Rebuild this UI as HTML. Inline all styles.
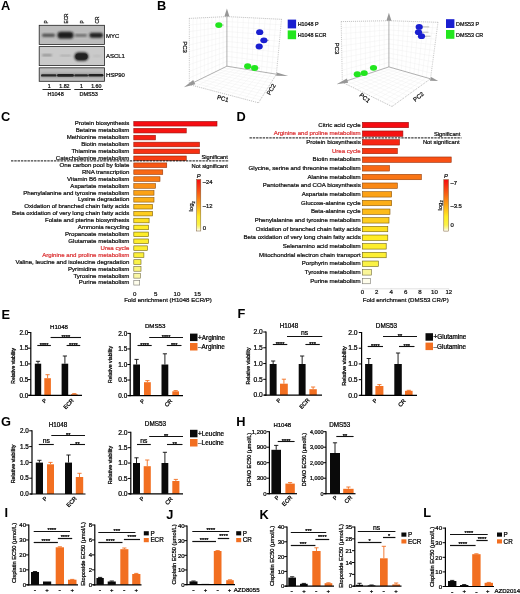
<!DOCTYPE html>
<html lang="en"><head><meta charset="utf-8"><title>Figure</title>
<style>html,body{margin:0;padding:0;background:#fff}svg{display:block}text{font-family:"Liberation Sans",Arial,sans-serif}</style>
</head><body>
<svg width="520" height="594" viewBox="0 0 520 594">
<defs>
<linearGradient id="cb" x1="0" y1="0" x2="0" y2="1">
<stop offset="0.0" stop-color="#f60c12"/><stop offset="0.28" stop-color="#f86214"/><stop offset="0.5" stop-color="#fca816"/><stop offset="0.72" stop-color="#ffec24"/><stop offset="0.88" stop-color="#faf248"/><stop offset="0.95" stop-color="#faf7a5"/><stop offset="1.0" stop-color="#fffffc"/>
</linearGradient>
<filter id="b1" x="-20%" y="-50%" width="140%" height="200%"><feGaussianBlur stdDeviation="0.9"/></filter>
<filter id="b2" x="-20%" y="-50%" width="140%" height="200%"><feGaussianBlur stdDeviation="0.5"/></filter>
</defs>
<rect x="0" y="0" width="520" height="594" fill="#fff"/>
<text x="1" y="10.3" font-size="12.8" font-weight="bold" fill="#000">A</text>
<text x="156.9" y="10.3" font-size="12.8" font-weight="bold" fill="#000">B</text>
<text x="1" y="120.7" font-size="12.8" font-weight="bold" fill="#000">C</text>
<text x="236.4" y="120.7" font-size="12.8" font-weight="bold" fill="#000">D</text>
<text x="1.6" y="318.6" font-size="12.8" font-weight="bold" fill="#000">E</text>
<text x="237.5" y="317.8" font-size="12.8" font-weight="bold" fill="#000">F</text>
<text x="1" y="426.4" font-size="12.8" font-weight="bold" fill="#000">G</text>
<text x="236.2" y="426.2" font-size="12.8" font-weight="bold" fill="#000">H</text>
<text x="4.5" y="517" font-size="12.8" font-weight="bold" fill="#000">I</text>
<text x="166.2" y="518.6" font-size="12.8" font-weight="bold" fill="#000">J</text>
<text x="259.5" y="518.6" font-size="12.8" font-weight="bold" fill="#000">K</text>
<text x="423.3" y="517.4" font-size="12.8" font-weight="bold" fill="#000">L</text>
<rect x="39.20" y="25.30" width="65.20" height="19.20" fill="#bcbcbc" stroke="#222" stroke-width="0.8"/>
<rect x="39.20" y="46.60" width="65.20" height="19.00" fill="#cacaca" stroke="#222" stroke-width="0.8"/>
<rect x="39.20" y="67.80" width="65.20" height="13.50" fill="#bdbdbd" stroke="#222" stroke-width="0.8"/>
<rect x="42" y="33.70" width="13.00" height="3.0" rx="1.50" fill="#3a3a3a" opacity="0.9" filter="url(#b1)"/>
<rect x="57.5" y="31.80" width="16.00" height="6.8" rx="3.40" fill="#1c1c1c" opacity="1" filter="url(#b1)"/>
<rect x="74.8" y="34.30" width="12.20" height="2.2" rx="1.10" fill="#4a4a4a" opacity="0.85" filter="url(#b1)"/>
<rect x="89.4" y="32.70" width="13.60" height="5.0" rx="2.50" fill="#222" opacity="1" filter="url(#b1)"/>
<rect x="42" y="54.40" width="10.00" height="1.6" rx="0.80" fill="#555" opacity="0.7" filter="url(#b1)"/>
<rect x="60" y="54.90" width="11.00" height="1.4" rx="0.70" fill="#777" opacity="0.5" filter="url(#b1)"/>
<rect x="74.3" y="52.20" width="14.20" height="8.8" rx="4.40" fill="#2a2a2a" opacity="1" filter="url(#b1)"/>
<rect x="75.5" y="53.60" width="12.00" height="6" rx="3.00" fill="#222" opacity="1" filter="url(#b2)"/>
<rect x="93" y="55.40" width="8.00" height="1.2" rx="0.60" fill="#888" opacity="0.4" filter="url(#b1)"/>
<rect x="41" y="74.20" width="15.50" height="2.4" rx="1.20" fill="#151515" opacity="1" filter="url(#b2)"/>
<rect x="57" y="74.10" width="17.00" height="2.6" rx="1.30" fill="#111" opacity="1" filter="url(#b2)"/>
<rect x="74.3" y="74.20" width="13.70" height="2.4" rx="1.20" fill="#151515" opacity="1" filter="url(#b2)"/>
<rect x="88.3" y="73.90" width="15.10" height="2.6" rx="1.30" fill="#111" opacity="1" filter="url(#b2)"/>
<rect x="40.5" y="73.20" width="63.10" height="4.4" rx="2.20" fill="#555" opacity="0.35" filter="url(#b1)"/>
<text x="106" y="37.6" font-size="5.95" fill="#111" stroke="#111" stroke-width="0.24">MYC</text>
<text x="106" y="57.6" font-size="5.95" fill="#111" stroke="#111" stroke-width="0.24">ASCL1</text>
<text x="106" y="76.6" font-size="5.95" fill="#111" stroke="#111" stroke-width="0.24">HSP90</text>
<text x="48.4" y="23.4" font-size="4.7" fill="#111" stroke="#111" stroke-width="0.24" transform="rotate(-90 48.4 23.4)">P</text>
<text x="67.8" y="23.4" font-size="4.7" fill="#111" stroke="#111" stroke-width="0.24" transform="rotate(-90 67.8 23.4)">ECR</text>
<text x="83.6" y="23.4" font-size="4.7" fill="#111" stroke="#111" stroke-width="0.24" transform="rotate(-90 83.6 23.4)">P</text>
<text x="98.6" y="23.4" font-size="4.7" fill="#111" stroke="#111" stroke-width="0.24" transform="rotate(-90 98.6 23.4)">CR</text>
<text x="49.2" y="87.5" font-size="5.3" text-anchor="middle" fill="#111" stroke="#111" stroke-width="0.24">1</text>
<text x="64.4" y="87.5" font-size="5.3" text-anchor="middle" fill="#111" stroke="#111" stroke-width="0.24">1.82</text>
<text x="81.5" y="87.5" font-size="5.3" text-anchor="middle" fill="#111" stroke="#111" stroke-width="0.24">1</text>
<text x="96.3" y="87.5" font-size="5.3" text-anchor="middle" fill="#111" stroke="#111" stroke-width="0.24">1.60</text>
<line x1="42.5" y1="89.5" x2="70.8" y2="89.5" stroke="#111" stroke-width="0.9"/>
<line x1="74.3" y1="89.5" x2="103" y2="89.5" stroke="#111" stroke-width="0.9"/>
<text x="55.6" y="96.2" font-size="5.5" text-anchor="middle" fill="#111" stroke="#111" stroke-width="0.24">H1048</text>
<text x="88.6" y="96.2" font-size="5.5" text-anchor="middle" fill="#111" stroke="#111" stroke-width="0.24">DMS53</text>
<line x1="223.1" y1="68.0" x2="223.1" y2="16.8" stroke="#ececec" stroke-width="0.35"/>
<line x1="226.9" y1="61.2" x2="189.3" y2="78.0" stroke="#ececec" stroke-width="0.35"/>
<line x1="231.8" y1="67.0" x2="232.4" y2="16.9" stroke="#ececec" stroke-width="0.35"/>
<line x1="226.9" y1="61.2" x2="276.9" y2="68.7" stroke="#ececec" stroke-width="0.35"/>
<line x1="223.1" y1="68.0" x2="274.6" y2="77.1" stroke="#ececec" stroke-width="0.35"/>
<line x1="231.8" y1="67.0" x2="196.2" y2="86.4" stroke="#ececec" stroke-width="0.35"/>
<line x1="219.4" y1="69.9" x2="219.4" y2="17.0" stroke="#ececec" stroke-width="0.35"/>
<line x1="226.9" y1="56.3" x2="189.3" y2="71.4" stroke="#ececec" stroke-width="0.35"/>
<line x1="236.8" y1="67.8" x2="237.8" y2="17.1" stroke="#ececec" stroke-width="0.35"/>
<line x1="226.9" y1="56.3" x2="277.4" y2="63.2" stroke="#ececec" stroke-width="0.35"/>
<line x1="219.4" y1="69.9" x2="272.8" y2="79.9" stroke="#ececec" stroke-width="0.35"/>
<line x1="236.8" y1="67.8" x2="203.1" y2="88.2" stroke="#ececec" stroke-width="0.35"/>
<line x1="215.6" y1="71.7" x2="215.6" y2="17.1" stroke="#ececec" stroke-width="0.35"/>
<line x1="226.9" y1="51.3" x2="189.3" y2="64.7" stroke="#ececec" stroke-width="0.35"/>
<line x1="241.8" y1="68.6" x2="243.3" y2="17.4" stroke="#ececec" stroke-width="0.35"/>
<line x1="226.9" y1="51.3" x2="277.9" y2="57.7" stroke="#ececec" stroke-width="0.35"/>
<line x1="215.6" y1="71.7" x2="271.0" y2="82.8" stroke="#ececec" stroke-width="0.35"/>
<line x1="241.8" y1="68.6" x2="210.1" y2="90.1" stroke="#ececec" stroke-width="0.35"/>
<line x1="211.9" y1="73.6" x2="211.9" y2="17.3" stroke="#ececec" stroke-width="0.35"/>
<line x1="226.9" y1="46.4" x2="189.3" y2="58.1" stroke="#ececec" stroke-width="0.35"/>
<line x1="246.7" y1="69.4" x2="248.7" y2="17.7" stroke="#ececec" stroke-width="0.35"/>
<line x1="226.9" y1="46.4" x2="278.4" y2="52.2" stroke="#ececec" stroke-width="0.35"/>
<line x1="211.9" y1="73.6" x2="269.2" y2="85.6" stroke="#ececec" stroke-width="0.35"/>
<line x1="246.7" y1="69.4" x2="217.0" y2="91.9" stroke="#ececec" stroke-width="0.35"/>
<line x1="208.1" y1="75.4" x2="208.1" y2="17.5" stroke="#ececec" stroke-width="0.35"/>
<line x1="226.9" y1="41.4" x2="189.3" y2="51.5" stroke="#ececec" stroke-width="0.35"/>
<line x1="251.6" y1="70.2" x2="254.2" y2="18.0" stroke="#ececec" stroke-width="0.35"/>
<line x1="226.9" y1="41.4" x2="278.9" y2="46.8" stroke="#ececec" stroke-width="0.35"/>
<line x1="208.1" y1="75.4" x2="267.4" y2="88.5" stroke="#ececec" stroke-width="0.35"/>
<line x1="251.6" y1="70.2" x2="223.9" y2="93.7" stroke="#ececec" stroke-width="0.35"/>
<line x1="204.3" y1="77.2" x2="204.3" y2="17.7" stroke="#ececec" stroke-width="0.35"/>
<line x1="226.9" y1="36.4" x2="189.3" y2="44.9" stroke="#ececec" stroke-width="0.35"/>
<line x1="256.6" y1="71.0" x2="259.7" y2="18.2" stroke="#ececec" stroke-width="0.35"/>
<line x1="226.9" y1="36.4" x2="279.5" y2="41.3" stroke="#ececec" stroke-width="0.35"/>
<line x1="204.3" y1="77.2" x2="265.7" y2="91.4" stroke="#ececec" stroke-width="0.35"/>
<line x1="256.6" y1="71.0" x2="230.8" y2="95.5" stroke="#ececec" stroke-width="0.35"/>
<line x1="200.6" y1="79.1" x2="200.6" y2="17.9" stroke="#ececec" stroke-width="0.35"/>
<line x1="226.9" y1="31.5" x2="189.3" y2="38.3" stroke="#ececec" stroke-width="0.35"/>
<line x1="261.5" y1="71.8" x2="265.1" y2="18.5" stroke="#ececec" stroke-width="0.35"/>
<line x1="226.9" y1="31.5" x2="280.0" y2="35.8" stroke="#ececec" stroke-width="0.35"/>
<line x1="200.6" y1="79.1" x2="263.9" y2="94.2" stroke="#ececec" stroke-width="0.35"/>
<line x1="261.5" y1="71.8" x2="237.7" y2="97.3" stroke="#ececec" stroke-width="0.35"/>
<line x1="196.8" y1="80.9" x2="196.8" y2="18.0" stroke="#ececec" stroke-width="0.35"/>
<line x1="226.9" y1="26.5" x2="189.3" y2="31.6" stroke="#ececec" stroke-width="0.35"/>
<line x1="266.5" y1="72.6" x2="270.6" y2="18.8" stroke="#ececec" stroke-width="0.35"/>
<line x1="226.9" y1="26.5" x2="280.5" y2="30.3" stroke="#ececec" stroke-width="0.35"/>
<line x1="196.8" y1="80.9" x2="262.1" y2="97.1" stroke="#ececec" stroke-width="0.35"/>
<line x1="266.5" y1="72.6" x2="244.7" y2="99.2" stroke="#ececec" stroke-width="0.35"/>
<line x1="193.1" y1="82.8" x2="193.1" y2="18.2" stroke="#ececec" stroke-width="0.35"/>
<line x1="226.9" y1="21.6" x2="189.3" y2="25.0" stroke="#ececec" stroke-width="0.35"/>
<line x1="271.4" y1="73.4" x2="276.0" y2="19.0" stroke="#ececec" stroke-width="0.35"/>
<line x1="226.9" y1="21.6" x2="281.0" y2="24.8" stroke="#ececec" stroke-width="0.35"/>
<line x1="193.1" y1="82.8" x2="260.3" y2="99.9" stroke="#ececec" stroke-width="0.35"/>
<line x1="271.4" y1="73.4" x2="251.6" y2="101.0" stroke="#ececec" stroke-width="0.35"/>
<line x1="189.3" y1="84.6" x2="189.3" y2="18.4" stroke="#ececec" stroke-width="0.35"/>
<line x1="226.9" y1="16.6" x2="189.3" y2="18.4" stroke="#ececec" stroke-width="0.35"/>
<line x1="276.4" y1="74.2" x2="281.5" y2="19.3" stroke="#ececec" stroke-width="0.35"/>
<line x1="226.9" y1="16.6" x2="281.5" y2="19.3" stroke="#ececec" stroke-width="0.35"/>
<line x1="189.3" y1="84.6" x2="258.5" y2="102.8" stroke="#ececec" stroke-width="0.35"/>
<line x1="276.4" y1="74.2" x2="258.5" y2="102.8" stroke="#ececec" stroke-width="0.35"/>
<line x1="189.3" y1="18.4" x2="226.9" y2="16.6" stroke="#8a8a8a" stroke-width="0.6" stroke-dasharray="0.8 1.2"/>
<line x1="226.9" y1="16.6" x2="281.5" y2="19.3" stroke="#8a8a8a" stroke-width="0.6" stroke-dasharray="0.8 1.2"/>
<line x1="189.3" y1="84.6" x2="258.5" y2="102.8" stroke="#8a8a8a" stroke-width="0.6" stroke-dasharray="0.8 1.2"/>
<line x1="258.5" y1="102.8" x2="276.4" y2="74.2" stroke="#8a8a8a" stroke-width="0.6" stroke-dasharray="0.8 1.2"/>
<line x1="189.3" y1="18.4" x2="189.3" y2="84.6" stroke="#9a9a9a" stroke-width="0.6" stroke-dasharray="0.8 1.4"/>
<line x1="281.5" y1="19.3" x2="276.4" y2="74.2" stroke="#9a9a9a" stroke-width="0.6" stroke-dasharray="0.8 1.4"/>
<line x1="226.9" y1="66.2" x2="226.9" y2="16.6" stroke="#858585" stroke-width="0.65"/>
<line x1="226.9" y1="66.2" x2="189.3" y2="84.6" stroke="#858585" stroke-width="0.65"/>
<line x1="226.9" y1="66.2" x2="276.4" y2="74.2" stroke="#858585" stroke-width="0.65"/>
<polygon points="226.9,8.6 229.4,16.6 224.4,16.6" fill="#979797"/>
<polygon points="183.9,87.2 193.2,80.1 195.3,84.2" fill="#979797"/>
<polygon points="288.2,76.1 276.1,75.8 276.7,72.6" fill="#979797"/>
<ellipse cx="259.7" cy="32.2" rx="3.6" ry="2.9" fill="#1a1fd0"/>
<line x1="263.9" y1="40.3" x2="268.9" y2="40.3" stroke="#777" stroke-width="0.5"/>
<ellipse cx="263.9" cy="40.3" rx="3.6" ry="2.9" fill="#1a1fd0"/>
<ellipse cx="259.2" cy="46.5" rx="3.6" ry="2.9" fill="#1a1fd0"/>
<line x1="218.8" y1="25.1" x2="223.8" y2="25.1" stroke="#777" stroke-width="0.5"/>
<ellipse cx="218.8" cy="25.1" rx="3.6" ry="2.9" fill="#22e61e"/>
<ellipse cx="247.7" cy="66.2" rx="3.6" ry="2.9" fill="#22e61e"/>
<line x1="254.6" y1="68.0" x2="259.6" y2="68.0" stroke="#777" stroke-width="0.5"/>
<ellipse cx="254.6" cy="68" rx="3.6" ry="2.9" fill="#22e61e"/>
<text x="183.2" y="47" font-size="6.0" text-anchor="middle" fill="#111" stroke="#111" stroke-width="0.24" transform="rotate(90 183.2 47)">PC3</text>
<text x="222.3" y="100.6" font-size="6.0" text-anchor="middle" fill="#111" stroke="#111" stroke-width="0.24" transform="rotate(15 222.3 100.6)">PC1</text>
<text x="273" y="90.5" font-size="6.0" text-anchor="middle" fill="#111" stroke="#111" stroke-width="0.24" transform="rotate(-60 273 90.5)">PC2</text>
<rect x="287.70" y="19.60" width="8.40" height="8.80" fill="#1a1fd0"/>
<rect x="287.70" y="30.40" width="8.40" height="8.80" fill="#22e61e"/>
<text x="297.7" y="26.200000000000003" font-size="5.4" fill="#111" stroke="#111" stroke-width="0.24">H1048 P</text>
<text x="297.7" y="37.0" font-size="5.4" fill="#111" stroke="#111" stroke-width="0.24">H1048 ECR</text>
<line x1="384.2" y1="68.4" x2="384.1" y2="20.8" stroke="#ececec" stroke-width="0.35"/>
<line x1="388.9" y1="62.3" x2="342.2" y2="76.2" stroke="#ececec" stroke-width="0.35"/>
<line x1="393.1" y1="68.1" x2="393.8" y2="20.9" stroke="#ececec" stroke-width="0.35"/>
<line x1="388.9" y1="62.3" x2="431.2" y2="73.1" stroke="#ececec" stroke-width="0.35"/>
<line x1="384.2" y1="68.4" x2="426.6" y2="81.6" stroke="#ececec" stroke-width="0.35"/>
<line x1="393.1" y1="68.1" x2="347.3" y2="84.7" stroke="#ececec" stroke-width="0.35"/>
<line x1="379.6" y1="70.0" x2="379.4" y2="20.9" stroke="#ececec" stroke-width="0.35"/>
<line x1="388.9" y1="57.7" x2="342.1" y2="70.2" stroke="#ececec" stroke-width="0.35"/>
<line x1="397.2" y1="69.3" x2="398.7" y2="21.0" stroke="#ececec" stroke-width="0.35"/>
<line x1="388.9" y1="57.7" x2="432.0" y2="67.5" stroke="#ececec" stroke-width="0.35"/>
<line x1="379.6" y1="70.0" x2="422.8" y2="84.3" stroke="#ececec" stroke-width="0.35"/>
<line x1="397.2" y1="69.3" x2="352.2" y2="87.1" stroke="#ececec" stroke-width="0.35"/>
<line x1="374.9" y1="71.5" x2="374.6" y2="21.0" stroke="#ececec" stroke-width="0.35"/>
<line x1="388.9" y1="53.0" x2="342.0" y2="64.1" stroke="#ececec" stroke-width="0.35"/>
<line x1="401.4" y1="70.5" x2="403.6" y2="21.2" stroke="#ececec" stroke-width="0.35"/>
<line x1="388.9" y1="53.0" x2="432.8" y2="61.8" stroke="#ececec" stroke-width="0.35"/>
<line x1="374.9" y1="71.5" x2="418.9" y2="87.1" stroke="#ececec" stroke-width="0.35"/>
<line x1="401.4" y1="70.5" x2="357.2" y2="89.6" stroke="#ececec" stroke-width="0.35"/>
<line x1="370.3" y1="73.1" x2="369.8" y2="21.1" stroke="#ececec" stroke-width="0.35"/>
<line x1="388.9" y1="48.4" x2="341.9" y2="58.0" stroke="#ececec" stroke-width="0.35"/>
<line x1="405.5" y1="71.7" x2="408.5" y2="21.3" stroke="#ececec" stroke-width="0.35"/>
<line x1="388.9" y1="48.4" x2="433.5" y2="56.2" stroke="#ececec" stroke-width="0.35"/>
<line x1="370.3" y1="73.1" x2="415.1" y2="89.9" stroke="#ececec" stroke-width="0.35"/>
<line x1="405.5" y1="71.7" x2="362.2" y2="92.0" stroke="#ececec" stroke-width="0.35"/>
<line x1="365.6" y1="74.6" x2="365.0" y2="21.1" stroke="#ececec" stroke-width="0.35"/>
<line x1="388.9" y1="43.8" x2="341.8" y2="52.0" stroke="#ececec" stroke-width="0.35"/>
<line x1="409.7" y1="72.8" x2="413.4" y2="21.5" stroke="#ececec" stroke-width="0.35"/>
<line x1="388.9" y1="43.8" x2="434.2" y2="50.5" stroke="#ececec" stroke-width="0.35"/>
<line x1="365.6" y1="74.6" x2="411.2" y2="92.7" stroke="#ececec" stroke-width="0.35"/>
<line x1="409.7" y1="72.8" x2="367.1" y2="94.4" stroke="#ececec" stroke-width="0.35"/>
<line x1="360.9" y1="76.1" x2="360.3" y2="21.2" stroke="#ececec" stroke-width="0.35"/>
<line x1="388.9" y1="39.2" x2="341.6" y2="45.9" stroke="#ececec" stroke-width="0.35"/>
<line x1="413.9" y1="74.0" x2="418.4" y2="21.7" stroke="#ececec" stroke-width="0.35"/>
<line x1="388.9" y1="39.2" x2="435.0" y2="44.9" stroke="#ececec" stroke-width="0.35"/>
<line x1="360.9" y1="76.1" x2="407.4" y2="95.4" stroke="#ececec" stroke-width="0.35"/>
<line x1="413.9" y1="74.0" x2="372.1" y2="96.8" stroke="#ececec" stroke-width="0.35"/>
<line x1="356.3" y1="77.7" x2="355.5" y2="21.3" stroke="#ececec" stroke-width="0.35"/>
<line x1="388.9" y1="34.6" x2="341.5" y2="39.8" stroke="#ececec" stroke-width="0.35"/>
<line x1="418.0" y1="75.2" x2="423.3" y2="21.8" stroke="#ececec" stroke-width="0.35"/>
<line x1="388.9" y1="34.6" x2="435.8" y2="39.2" stroke="#ececec" stroke-width="0.35"/>
<line x1="356.3" y1="77.7" x2="403.6" y2="98.2" stroke="#ececec" stroke-width="0.35"/>
<line x1="418.0" y1="75.2" x2="377.1" y2="99.2" stroke="#ececec" stroke-width="0.35"/>
<line x1="351.6" y1="79.2" x2="350.7" y2="21.4" stroke="#ececec" stroke-width="0.35"/>
<line x1="388.9" y1="29.9" x2="341.4" y2="33.7" stroke="#ececec" stroke-width="0.35"/>
<line x1="422.2" y1="76.4" x2="428.2" y2="22.0" stroke="#ececec" stroke-width="0.35"/>
<line x1="388.9" y1="29.9" x2="436.5" y2="33.6" stroke="#ececec" stroke-width="0.35"/>
<line x1="351.6" y1="79.2" x2="399.7" y2="101.0" stroke="#ececec" stroke-width="0.35"/>
<line x1="422.2" y1="76.4" x2="382.1" y2="101.7" stroke="#ececec" stroke-width="0.35"/>
<line x1="347.0" y1="80.8" x2="346.0" y2="21.5" stroke="#ececec" stroke-width="0.35"/>
<line x1="388.9" y1="25.3" x2="341.3" y2="27.7" stroke="#ececec" stroke-width="0.35"/>
<line x1="426.3" y1="77.6" x2="433.1" y2="22.1" stroke="#ececec" stroke-width="0.35"/>
<line x1="388.9" y1="25.3" x2="437.2" y2="27.9" stroke="#ececec" stroke-width="0.35"/>
<line x1="347.0" y1="80.8" x2="395.9" y2="103.7" stroke="#ececec" stroke-width="0.35"/>
<line x1="426.3" y1="77.6" x2="387.0" y2="104.1" stroke="#ececec" stroke-width="0.35"/>
<line x1="342.3" y1="82.3" x2="341.2" y2="21.6" stroke="#ececec" stroke-width="0.35"/>
<line x1="388.9" y1="20.7" x2="341.2" y2="21.6" stroke="#ececec" stroke-width="0.35"/>
<line x1="430.5" y1="78.8" x2="438.0" y2="22.3" stroke="#ececec" stroke-width="0.35"/>
<line x1="388.9" y1="20.7" x2="438.0" y2="22.3" stroke="#ececec" stroke-width="0.35"/>
<line x1="342.3" y1="82.3" x2="392.0" y2="106.5" stroke="#ececec" stroke-width="0.35"/>
<line x1="430.5" y1="78.8" x2="392.0" y2="106.5" stroke="#ececec" stroke-width="0.35"/>
<line x1="341.2" y1="21.6" x2="388.9" y2="20.7" stroke="#8a8a8a" stroke-width="0.6" stroke-dasharray="0.8 1.2"/>
<line x1="388.9" y1="20.7" x2="438.0" y2="22.3" stroke="#8a8a8a" stroke-width="0.6" stroke-dasharray="0.8 1.2"/>
<line x1="342.3" y1="82.3" x2="392.0" y2="106.5" stroke="#8a8a8a" stroke-width="0.6" stroke-dasharray="0.8 1.2"/>
<line x1="392.0" y1="106.5" x2="430.5" y2="78.8" stroke="#8a8a8a" stroke-width="0.6" stroke-dasharray="0.8 1.2"/>
<line x1="341.2" y1="21.6" x2="342.3" y2="82.3" stroke="#9a9a9a" stroke-width="0.6" stroke-dasharray="0.8 1.4"/>
<line x1="438.0" y1="22.3" x2="430.5" y2="78.8" stroke="#9a9a9a" stroke-width="0.6" stroke-dasharray="0.8 1.4"/>
<line x1="388.9" y1="66.9" x2="388.9" y2="20.7" stroke="#858585" stroke-width="0.65"/>
<line x1="388.9" y1="66.9" x2="342.3" y2="82.3" stroke="#858585" stroke-width="0.65"/>
<line x1="388.9" y1="66.9" x2="430.5" y2="78.8" stroke="#858585" stroke-width="0.65"/>
<polygon points="388.9,12.7 391.4,20.7 386.4,20.7" fill="#979797"/>
<polygon points="336.6,84.2 346.8,78.4 348.2,82.8" fill="#979797"/>
<polygon points="438.2,81.0 429.9,80.7 431.1,76.9" fill="#979797"/>
<line x1="419.2" y1="26.9" x2="429.2" y2="26.9" stroke="#777" stroke-width="0.5"/>
<ellipse cx="419.2" cy="26.9" rx="3.6" ry="2.9" fill="#1a1fd0"/>
<line x1="418.5" y1="32.2" x2="428.5" y2="32.2" stroke="#777" stroke-width="0.5"/>
<ellipse cx="418.5" cy="32.2" rx="3.6" ry="2.9" fill="#1a1fd0"/>
<line x1="421.5" y1="36.2" x2="430.5" y2="36.2" stroke="#777" stroke-width="0.5"/>
<ellipse cx="421.5" cy="36.2" rx="3.6" ry="2.9" fill="#1a1fd0"/>
<ellipse cx="373.5" cy="67.8" rx="3.6" ry="2.9" fill="#22e61e"/>
<ellipse cx="364.2" cy="73.1" rx="3.6" ry="2.9" fill="#22e61e"/>
<ellipse cx="357.3" cy="74.2" rx="3.6" ry="2.9" fill="#22e61e"/>
<text x="335.4" y="48.4" font-size="6.0" text-anchor="middle" fill="#111" stroke="#111" stroke-width="0.24" transform="rotate(90 335.4 48.4)">PC3</text>
<text x="363.5" y="99.5" font-size="6.0" text-anchor="middle" fill="#111" stroke="#111" stroke-width="0.24" transform="rotate(40 363.5 99.5)">PC1</text>
<text x="419.8" y="98.3" font-size="6.0" text-anchor="middle" fill="#111" stroke="#111" stroke-width="0.24" transform="rotate(-40 419.8 98.3)">PC2</text>
<rect x="446.00" y="19.20" width="8.40" height="8.80" fill="#1a1fd0"/>
<rect x="446.00" y="30.00" width="8.40" height="8.80" fill="#22e61e"/>
<text x="456" y="25.799999999999997" font-size="5.4" fill="#111" stroke="#111" stroke-width="0.24">DMS53 P</text>
<text x="456" y="36.599999999999994" font-size="5.4" fill="#111" stroke="#111" stroke-width="0.24">DMS53 CR</text>
<rect x="133.80" y="121.45" width="83.20" height="4.60" fill="#f60c12" stroke="#960f0c" stroke-width="0.6"/>
<text x="129.3" y="125.45" font-size="6.1" text-anchor="end" fill="#111" stroke="#111" stroke-width="0.24">Protein biosynthesis</text>
<rect x="133.80" y="128.36" width="52.45" height="4.60" fill="#f61512" stroke="#96130c" stroke-width="0.6"/>
<text x="129.3" y="132.363" font-size="6.1" text-anchor="end" fill="#111" stroke="#111" stroke-width="0.24">Betaine metabolism</text>
<rect x="133.80" y="135.28" width="21.70" height="4.60" fill="#f61e12" stroke="#96180c" stroke-width="0.6"/>
<text x="129.3" y="139.27599999999998" font-size="6.1" text-anchor="end" fill="#111" stroke="#111" stroke-width="0.24">Methionine metabolism</text>
<rect x="133.80" y="142.19" width="65.70" height="4.60" fill="#f72813" stroke="#961c0b" stroke-width="0.6"/>
<text x="129.3" y="146.189" font-size="6.1" text-anchor="end" fill="#111" stroke="#111" stroke-width="0.24">Biotin metabolism</text>
<rect x="133.80" y="149.10" width="65.70" height="4.60" fill="#f73113" stroke="#96200b" stroke-width="0.6"/>
<text x="129.3" y="153.10199999999998" font-size="6.1" text-anchor="end" fill="#111" stroke="#111" stroke-width="0.24">Thiamine metabolism</text>
<rect x="133.80" y="156.01" width="52.45" height="4.60" fill="#f73d13" stroke="#96260b" stroke-width="0.6"/>
<text x="129.3" y="160.015" font-size="6.1" text-anchor="end" fill="#111" stroke="#111" stroke-width="0.24">Catecholamine metabolism</text>
<rect x="133.80" y="162.93" width="32.95" height="4.60" fill="#f85614" stroke="#96310a" stroke-width="0.6"/>
<text x="129.3" y="166.928" font-size="6.1" text-anchor="end" fill="#111" stroke="#111" stroke-width="0.24">One carbon pool by folate</text>
<rect x="133.80" y="169.84" width="28.95" height="4.60" fill="#f86814" stroke="#963a0a" stroke-width="0.6"/>
<text x="129.3" y="173.841" font-size="6.1" text-anchor="end" fill="#111" stroke="#111" stroke-width="0.24">RNA transcription</text>
<rect x="133.80" y="176.75" width="26.20" height="4.60" fill="#f97b15" stroke="#93420a" stroke-width="0.6"/>
<text x="129.3" y="180.754" font-size="6.1" text-anchor="end" fill="#111" stroke="#111" stroke-width="0.24">Vitamin B6 metabolism</text>
<rect x="133.80" y="183.67" width="21.70" height="4.60" fill="#fb8f15" stroke="#904a0a" stroke-width="0.6"/>
<text x="129.3" y="187.66699999999997" font-size="6.1" text-anchor="end" fill="#111" stroke="#111" stroke-width="0.24">Aspartate metabolism</text>
<rect x="133.80" y="190.58" width="20.20" height="4.60" fill="#fca216" stroke="#8d520a" stroke-width="0.6"/>
<text x="129.3" y="194.57999999999998" font-size="6.1" text-anchor="end" fill="#111" stroke="#111" stroke-width="0.24">Phenylalanine and tyrosine metabolism</text>
<rect x="133.80" y="197.49" width="20.20" height="4.60" fill="#fcae17" stroke="#89560a" stroke-width="0.6"/>
<text x="129.3" y="201.493" font-size="6.1" text-anchor="end" fill="#111" stroke="#111" stroke-width="0.24">Lysine degradation</text>
<rect x="133.80" y="204.41" width="18.80" height="4.60" fill="#fdc11b" stroke="#825a0a" stroke-width="0.6"/>
<text x="129.3" y="208.406" font-size="6.1" text-anchor="end" fill="#111" stroke="#111" stroke-width="0.24">Oxidation of branched chain fatty acids</text>
<rect x="133.80" y="211.32" width="18.80" height="4.60" fill="#fecd1e" stroke="#7d5c0a" stroke-width="0.6"/>
<text x="129.3" y="215.319" font-size="6.1" text-anchor="end" fill="#111" stroke="#111" stroke-width="0.24">Beta oxidation of very long chain fatty acids</text>
<rect x="133.80" y="218.23" width="15.30" height="4.60" fill="#fee021" stroke="#75600a" stroke-width="0.6"/>
<text x="129.3" y="222.232" font-size="6.1" text-anchor="end" fill="#111" stroke="#111" stroke-width="0.24">Folate and pterine biosynthesis</text>
<rect x="133.80" y="225.14" width="14.70" height="4.60" fill="#ffec24" stroke="#70620a" stroke-width="0.6"/>
<text x="129.3" y="229.14499999999998" font-size="6.1" text-anchor="end" fill="#111" stroke="#111" stroke-width="0.24">Ammonia recycling</text>
<rect x="133.80" y="232.06" width="14.70" height="4.60" fill="#feed28" stroke="#70620c" stroke-width="0.6"/>
<text x="129.3" y="236.058" font-size="6.1" text-anchor="end" fill="#111" stroke="#111" stroke-width="0.24">Propanoate metabolism</text>
<rect x="133.80" y="238.97" width="14.70" height="4.60" fill="#feee2d" stroke="#6f620e" stroke-width="0.6"/>
<text x="129.3" y="242.971" font-size="6.1" text-anchor="end" fill="#111" stroke="#111" stroke-width="0.24">Glutamate metabolism</text>
<rect x="133.80" y="245.88" width="13.60" height="4.60" fill="#fdee32" stroke="#6f6211" stroke-width="0.6"/>
<text x="129.3" y="249.884" font-size="6.1" text-anchor="end" fill="#dc3638" stroke="#dc3638" stroke-width="0.24">Urea cycle</text>
<rect x="133.80" y="252.80" width="10.10" height="4.60" fill="#fcf03a" stroke="#6e6215" stroke-width="0.6"/>
<text x="129.3" y="256.797" font-size="6.1" text-anchor="end" fill="#dc3638" stroke="#dc3638" stroke-width="0.24">Arginine and proline metabolism</text>
<rect x="133.80" y="259.71" width="7.20" height="4.60" fill="#faf248" stroke="#6c621c" stroke-width="0.6"/>
<text x="129.3" y="263.71" font-size="6.1" text-anchor="end" fill="#111" stroke="#111" stroke-width="0.24">Valine, leucine and isoleucine degradation</text>
<rect x="133.80" y="266.62" width="7.20" height="4.60" fill="#faf57d" stroke="#6f6731" stroke-width="0.6"/>
<text x="129.3" y="270.623" font-size="6.1" text-anchor="end" fill="#111" stroke="#111" stroke-width="0.24">Pyrimidine metabolism</text>
<rect x="133.80" y="273.54" width="6.70" height="4.60" fill="#faf7a5" stroke="#746f4d" stroke-width="0.6"/>
<text x="129.3" y="277.536" font-size="6.1" text-anchor="end" fill="#111" stroke="#111" stroke-width="0.24">Tyrosine metabolism</text>
<rect x="133.80" y="280.45" width="5.90" height="4.60" fill="#fefdeb" stroke="#7b7a73" stroke-width="0.6"/>
<text x="129.3" y="284.449" font-size="6.1" text-anchor="end" fill="#111" stroke="#111" stroke-width="0.24">Purine metabolism</text>
<line x1="11" y1="160.9" x2="229" y2="160.9" stroke="#111" stroke-width="1.0" stroke-dasharray="2.4 0.9"/>
<text x="227.8" y="158.9" font-size="5.7" text-anchor="end" fill="#111" stroke="#111" stroke-width="0.24">Significant</text>
<text x="227.8" y="167.6" font-size="5.78" text-anchor="end" fill="#111" stroke="#111" stroke-width="0.24">Not significant</text>
<rect x="196.7" y="179.5" width="4.1" height="51.5" fill="url(#cb)" stroke="#7a5a30" stroke-width="0.5"/>
<text x="202.7" y="184.1" font-size="5.9" fill="#111" stroke="#111" stroke-width="0.24">–24</text>
<text x="202.7" y="207.9" font-size="5.9" fill="#111" stroke="#111" stroke-width="0.24">–12</text>
<text x="202.7" y="229.8" font-size="5.9" fill="#111" stroke="#111" stroke-width="0.24">0</text>
<text x="198.8" y="177.6" font-size="5.8" text-anchor="middle" font-style="italic" fill="#111" stroke="#111" stroke-width="0.24">P</text>
<text x="193.4" y="206.3" font-size="6" fill="#111" stroke="#111" stroke-width="0.24" text-anchor="middle" transform="rotate(-90 193.4 206.3)">log<tspan font-size="4.2" dy="1.3">2</tspan></text>
<text x="134.6" y="295.6" font-size="6.1" text-anchor="middle" fill="#111" stroke="#111" stroke-width="0.24">0</text>
<text x="155.6" y="295.6" font-size="6.1" text-anchor="middle" fill="#111" stroke="#111" stroke-width="0.24">5</text>
<text x="176.9" y="295.6" font-size="6.1" text-anchor="middle" fill="#111" stroke="#111" stroke-width="0.24">10</text>
<text x="197.5" y="295.6" font-size="6.1" text-anchor="middle" fill="#111" stroke="#111" stroke-width="0.24">15</text>
<text x="168" y="301.6" font-size="6.1" text-anchor="middle" fill="#111" stroke="#111" stroke-width="0.24">Fold enrichment (H1048 ECR/P)</text>
<rect x="362.40" y="122.30" width="46.10" height="5.40" fill="#f60c12" stroke="#960f0c" stroke-width="0.6"/>
<text x="360.7" y="126.7" font-size="6.1" text-anchor="end" fill="#111" stroke="#111" stroke-width="0.24">Citric acid cycle</text>
<rect x="362.40" y="130.97" width="40.50" height="5.40" fill="#f61212" stroke="#96120c" stroke-width="0.6"/>
<text x="360.7" y="135.36999999999998" font-size="6.1" text-anchor="end" fill="#dc3638" stroke="#dc3638" stroke-width="0.24">Arginine and proline metabolism</text>
<rect x="362.40" y="139.64" width="37.10" height="5.40" fill="#f72513" stroke="#961a0b" stroke-width="0.6"/>
<text x="360.7" y="144.04" font-size="6.1" text-anchor="end" fill="#111" stroke="#111" stroke-width="0.24">Protein biosynthesis</text>
<rect x="362.40" y="148.31" width="34.90" height="5.40" fill="#f73713" stroke="#96230b" stroke-width="0.6"/>
<text x="360.7" y="152.70999999999998" font-size="6.1" text-anchor="end" fill="#dc3638" stroke="#dc3638" stroke-width="0.24">Urea cycle</text>
<rect x="362.40" y="156.98" width="88.80" height="5.40" fill="#f85014" stroke="#962f0b" stroke-width="0.6"/>
<text x="360.7" y="161.38" font-size="6.1" text-anchor="end" fill="#111" stroke="#111" stroke-width="0.24">Biotin metabolism</text>
<rect x="362.40" y="165.65" width="27.10" height="5.40" fill="#f86814" stroke="#963a0a" stroke-width="0.6"/>
<text x="360.7" y="170.04999999999998" font-size="6.1" text-anchor="end" fill="#111" stroke="#111" stroke-width="0.24">Glycine, serine and threonine metabolism</text>
<rect x="362.40" y="174.32" width="58.90" height="5.40" fill="#f97515" stroke="#943f0a" stroke-width="0.6"/>
<text x="360.7" y="178.71999999999997" font-size="6.1" text-anchor="end" fill="#111" stroke="#111" stroke-width="0.24">Alanine metabolism</text>
<rect x="362.40" y="182.99" width="34.90" height="5.40" fill="#fa8815" stroke="#91480a" stroke-width="0.6"/>
<text x="360.7" y="187.39" font-size="6.1" text-anchor="end" fill="#111" stroke="#111" stroke-width="0.24">Pantothenate and COA biosynthesis</text>
<rect x="362.40" y="191.66" width="29.30" height="5.40" fill="#fca216" stroke="#8d520a" stroke-width="0.6"/>
<text x="360.7" y="196.06" font-size="6.1" text-anchor="end" fill="#111" stroke="#111" stroke-width="0.24">Aspartate metabolism</text>
<rect x="362.40" y="200.33" width="29.30" height="5.40" fill="#fcae17" stroke="#89560a" stroke-width="0.6"/>
<text x="360.7" y="204.73" font-size="6.1" text-anchor="end" fill="#111" stroke="#111" stroke-width="0.24">Glucose-alanine cycle</text>
<rect x="362.40" y="209.00" width="27.60" height="5.40" fill="#fdbb1a" stroke="#84590a" stroke-width="0.6"/>
<text x="360.7" y="213.39999999999998" font-size="6.1" text-anchor="end" fill="#111" stroke="#111" stroke-width="0.24">Beta-alanine cycle</text>
<rect x="362.40" y="217.67" width="26.60" height="5.40" fill="#fecd1e" stroke="#7d5c0a" stroke-width="0.6"/>
<text x="360.7" y="222.07" font-size="6.1" text-anchor="end" fill="#111" stroke="#111" stroke-width="0.24">Phenylalanine and tyrosine metabolism</text>
<rect x="362.40" y="226.34" width="25.40" height="5.40" fill="#fee021" stroke="#75600a" stroke-width="0.6"/>
<text x="360.7" y="230.73999999999998" font-size="6.1" text-anchor="end" fill="#111" stroke="#111" stroke-width="0.24">Oxidation of branched chain fatty acids</text>
<rect x="362.40" y="235.01" width="25.40" height="5.40" fill="#ffec24" stroke="#70620a" stroke-width="0.6"/>
<text x="360.7" y="239.40999999999997" font-size="6.1" text-anchor="end" fill="#111" stroke="#111" stroke-width="0.24">Beta oxidation of very long chain fatty acids</text>
<rect x="362.40" y="243.68" width="23.80" height="5.40" fill="#feee2d" stroke="#6f620e" stroke-width="0.6"/>
<text x="360.7" y="248.07999999999998" font-size="6.1" text-anchor="end" fill="#111" stroke="#111" stroke-width="0.24">Selenamino acid metabolism</text>
<rect x="362.40" y="252.35" width="23.80" height="5.40" fill="#fdef34" stroke="#6e6212" stroke-width="0.6"/>
<text x="360.7" y="256.75" font-size="6.1" text-anchor="end" fill="#111" stroke="#111" stroke-width="0.24">Mitochondrial electron chain transport</text>
<rect x="362.40" y="261.02" width="16.00" height="5.40" fill="#faf246" stroke="#6d621b" stroke-width="0.6"/>
<text x="360.7" y="265.42" font-size="6.1" text-anchor="end" fill="#111" stroke="#111" stroke-width="0.24">Porphyrin metabolism</text>
<rect x="362.40" y="269.69" width="9.20" height="5.40" fill="#faf698" stroke="#736d44" stroke-width="0.6"/>
<text x="360.7" y="274.09" font-size="6.1" text-anchor="end" fill="#111" stroke="#111" stroke-width="0.24">Tyrosine metabolism</text>
<rect x="362.40" y="278.36" width="8.00" height="5.40" fill="#fefdeb" stroke="#7b7a73" stroke-width="0.6"/>
<text x="360.7" y="282.76" font-size="6.1" text-anchor="end" fill="#111" stroke="#111" stroke-width="0.24">Purine metabolism</text>
<line x1="249.5" y1="137.9" x2="461.5" y2="137.9" stroke="#111" stroke-width="1.0" stroke-dasharray="2.4 0.9"/>
<text x="460.4" y="135.5" font-size="5.74" text-anchor="end" fill="#111" stroke="#111" stroke-width="0.24">Significant</text>
<text x="459.6" y="143.9" font-size="5.85" text-anchor="end" fill="#111" stroke="#111" stroke-width="0.24">Not significant</text>
<rect x="443.8" y="179.6" width="4.7" height="51.5" fill="url(#cb)" stroke="#7a5a30" stroke-width="0.5"/>
<text x="450.4" y="185" font-size="5.9" fill="#111" stroke="#111" stroke-width="0.24">–7</text>
<text x="450.4" y="207.8" font-size="5.9" fill="#111" stroke="#111" stroke-width="0.24">–3.5</text>
<text x="450.4" y="227.4" font-size="5.9" fill="#111" stroke="#111" stroke-width="0.24">0</text>
<text x="446" y="177.6" font-size="5.8" text-anchor="middle" font-style="italic" fill="#111" stroke="#111" stroke-width="0.24">P</text>
<text x="442" y="205.4" font-size="6" fill="#111" stroke="#111" stroke-width="0.24" text-anchor="middle" transform="rotate(-90 442 205.4)">log<tspan font-size="4.2" dy="1.3">2</tspan></text>
<line x1="362" y1="288.8" x2="449" y2="288.8" stroke="#d4d4d4" stroke-width="0.7"/>
<line x1="362.4" y1="288.8" x2="362.4" y2="290.4" stroke="#d4d4d4" stroke-width="0.6"/>
<text x="362.4" y="294.4" font-size="6.1" text-anchor="middle" fill="#111" stroke="#111" stroke-width="0.24">0</text>
<line x1="376.79999999999995" y1="288.8" x2="376.79999999999995" y2="290.4" stroke="#d4d4d4" stroke-width="0.6"/>
<text x="376.79999999999995" y="294.4" font-size="6.1" text-anchor="middle" fill="#111" stroke="#111" stroke-width="0.24">2</text>
<line x1="391.2" y1="288.8" x2="391.2" y2="290.4" stroke="#d4d4d4" stroke-width="0.6"/>
<text x="391.2" y="294.4" font-size="6.1" text-anchor="middle" fill="#111" stroke="#111" stroke-width="0.24">4</text>
<line x1="405.59999999999997" y1="288.8" x2="405.59999999999997" y2="290.4" stroke="#d4d4d4" stroke-width="0.6"/>
<text x="405.59999999999997" y="294.4" font-size="6.1" text-anchor="middle" fill="#111" stroke="#111" stroke-width="0.24">6</text>
<line x1="420.0" y1="288.8" x2="420.0" y2="290.4" stroke="#d4d4d4" stroke-width="0.6"/>
<text x="420.0" y="294.4" font-size="6.1" text-anchor="middle" fill="#111" stroke="#111" stroke-width="0.24">8</text>
<line x1="434.4" y1="288.8" x2="434.4" y2="290.4" stroke="#d4d4d4" stroke-width="0.6"/>
<text x="434.4" y="294.4" font-size="6.1" text-anchor="middle" fill="#111" stroke="#111" stroke-width="0.24">10</text>
<line x1="448.79999999999995" y1="288.8" x2="448.79999999999995" y2="290.4" stroke="#d4d4d4" stroke-width="0.6"/>
<text x="448.79999999999995" y="294.4" font-size="6.1" text-anchor="middle" fill="#111" stroke="#111" stroke-width="0.24">12</text>
<text x="405.7" y="301.8" font-size="6.1" text-anchor="middle" fill="#111" stroke="#111" stroke-width="0.24">Fold enrichment (DMS53 CR/P)</text>
<line x1="38.0" y1="363.7" x2="38.0" y2="361.3" stroke="#0a0a0a" stroke-width="0.9"/>
<line x1="35.9" y1="361.3" x2="40.1" y2="361.3" stroke="#0a0a0a" stroke-width="0.9"/>
<rect x="34.80" y="363.70" width="6.40" height="31.60" fill="#0a0a0a"/>
<line x1="47.599999999999994" y1="378.2" x2="47.599999999999994" y2="374.7" stroke="#f26f21" stroke-width="0.9"/>
<line x1="45.49999999999999" y1="374.7" x2="49.699999999999996" y2="374.7" stroke="#f26f21" stroke-width="0.9"/>
<rect x="44.30" y="378.20" width="6.60" height="17.10" fill="#f26f21"/>
<line x1="64.9" y1="363.7" x2="64.9" y2="356" stroke="#0a0a0a" stroke-width="0.9"/>
<line x1="62.800000000000004" y1="356" x2="67.0" y2="356" stroke="#0a0a0a" stroke-width="0.9"/>
<rect x="61.60" y="363.70" width="6.60" height="31.60" fill="#0a0a0a"/>
<line x1="74.3" y1="394.2" x2="74.3" y2="393.6" stroke="#f26f21" stroke-width="0.9"/>
<line x1="72.2" y1="393.6" x2="76.39999999999999" y2="393.6" stroke="#f26f21" stroke-width="0.9"/>
<rect x="71.00" y="394.20" width="6.60" height="1.10" fill="#f26f21"/>
<line x1="30.8" y1="332.0" x2="30.8" y2="395.90000000000003" stroke="#000" stroke-width="1.2"/>
<line x1="28.8" y1="395.3" x2="82" y2="395.3" stroke="#000" stroke-width="1.2"/>
<line x1="28.0" y1="395.3" x2="30.8" y2="395.3" stroke="#000" stroke-width="1.0"/>
<text x="28.2" y="397.5" font-size="6.3" text-anchor="end" fill="#000" stroke="#000" stroke-width="0.24">0.0</text>
<line x1="28.0" y1="379.6" x2="30.8" y2="379.6" stroke="#000" stroke-width="1.0"/>
<text x="28.2" y="381.8" font-size="6.3" text-anchor="end" fill="#000" stroke="#000" stroke-width="0.24">0.5</text>
<line x1="28.0" y1="363.9" x2="30.8" y2="363.9" stroke="#000" stroke-width="1.0"/>
<text x="28.2" y="366.09999999999997" font-size="6.3" text-anchor="end" fill="#000" stroke="#000" stroke-width="0.24">1.0</text>
<line x1="28.0" y1="348.2" x2="30.8" y2="348.2" stroke="#000" stroke-width="1.0"/>
<text x="28.2" y="350.4" font-size="6.3" text-anchor="end" fill="#000" stroke="#000" stroke-width="0.24">1.5</text>
<line x1="28.0" y1="332.5" x2="30.8" y2="332.5" stroke="#000" stroke-width="1.0"/>
<text x="28.2" y="334.7" font-size="6.3" text-anchor="end" fill="#000" stroke="#000" stroke-width="0.24">2.0</text>
<text x="59" y="328.5" font-size="6.1" text-anchor="middle" fill="#000" stroke="#000" stroke-width="0.24">H1048</text>
<text x="15.3" y="365.8" font-size="5.0" text-anchor="middle" fill="#000" stroke="#000" stroke-width="0.24" transform="rotate(-90 15.3 365.8)">Relative viability</text>
<line x1="37.3" y1="345.5" x2="50.9" y2="345.5" stroke="#111" stroke-width="1.1"/>
<text x="44.099999999999994" y="346.6" font-size="5.6" text-anchor="middle" fill="#000" stroke="#000" stroke-width="0.24">****</text>
<line x1="66.6" y1="345.5" x2="80.2" y2="345.5" stroke="#111" stroke-width="1.1"/>
<text x="73.4" y="346.6" font-size="5.6" text-anchor="middle" fill="#000" stroke="#000" stroke-width="0.24">****</text>
<line x1="50.6" y1="337.5" x2="81" y2="337.5" stroke="#111" stroke-width="1.1"/>
<text x="65.8" y="338.6" font-size="5.6" text-anchor="middle" fill="#000" stroke="#000" stroke-width="0.24">****</text>
<text x="47.2" y="400.8" font-size="5.7" text-anchor="end" fill="#000" stroke="#000" stroke-width="0.24" transform="rotate(-46 47.2 400.8)">P</text>
<text x="74.2" y="400.8" font-size="5.7" text-anchor="end" fill="#000" stroke="#000" stroke-width="0.24" transform="rotate(-46 74.2 400.8)">ECR</text>
<line x1="136.6" y1="364.5" x2="136.6" y2="359.4" stroke="#0a0a0a" stroke-width="0.9"/>
<line x1="134.5" y1="359.4" x2="138.7" y2="359.4" stroke="#0a0a0a" stroke-width="0.9"/>
<rect x="133.20" y="364.50" width="6.80" height="31.10" fill="#0a0a0a"/>
<line x1="147.4" y1="382.2" x2="147.4" y2="380.6" stroke="#f26f21" stroke-width="0.9"/>
<line x1="145.3" y1="380.6" x2="149.5" y2="380.6" stroke="#f26f21" stroke-width="0.9"/>
<rect x="144.00" y="382.20" width="6.80" height="13.40" fill="#f26f21"/>
<line x1="164.9" y1="364.5" x2="164.9" y2="353.8" stroke="#0a0a0a" stroke-width="0.9"/>
<line x1="162.8" y1="353.8" x2="167.0" y2="353.8" stroke="#0a0a0a" stroke-width="0.9"/>
<rect x="161.50" y="364.50" width="6.80" height="31.10" fill="#0a0a0a"/>
<line x1="175.65" y1="391.3" x2="175.65" y2="390.6" stroke="#f26f21" stroke-width="0.9"/>
<line x1="173.55" y1="390.6" x2="177.75" y2="390.6" stroke="#f26f21" stroke-width="0.9"/>
<rect x="172.30" y="391.30" width="6.70" height="4.30" fill="#f26f21"/>
<line x1="130.2" y1="332.9" x2="130.2" y2="396.20000000000005" stroke="#000" stroke-width="1.2"/>
<line x1="128.2" y1="395.6" x2="183" y2="395.6" stroke="#000" stroke-width="1.2"/>
<line x1="127.39999999999999" y1="395.6" x2="130.2" y2="395.6" stroke="#000" stroke-width="1.0"/>
<text x="127.2" y="397.8" font-size="6.4" text-anchor="end" fill="#000" stroke="#000" stroke-width="0.24">0.0</text>
<line x1="127.39999999999999" y1="380.05" x2="130.2" y2="380.05" stroke="#000" stroke-width="1.0"/>
<text x="127.2" y="382.25" font-size="6.4" text-anchor="end" fill="#000" stroke="#000" stroke-width="0.24">0.5</text>
<line x1="127.39999999999999" y1="364.5" x2="130.2" y2="364.5" stroke="#000" stroke-width="1.0"/>
<text x="127.2" y="366.7" font-size="6.4" text-anchor="end" fill="#000" stroke="#000" stroke-width="0.24">1.0</text>
<line x1="127.39999999999999" y1="348.95" x2="130.2" y2="348.95" stroke="#000" stroke-width="1.0"/>
<text x="127.2" y="351.15" font-size="6.4" text-anchor="end" fill="#000" stroke="#000" stroke-width="0.24">1.5</text>
<line x1="127.39999999999999" y1="333.4" x2="130.2" y2="333.4" stroke="#000" stroke-width="1.0"/>
<text x="127.2" y="335.59999999999997" font-size="6.4" text-anchor="end" fill="#000" stroke="#000" stroke-width="0.24">2.0</text>
<text x="155.2" y="328" font-size="6.2" text-anchor="middle" fill="#000" stroke="#000" stroke-width="0.24">DMS53</text>
<text x="112" y="364.5" font-size="5.2" text-anchor="middle" fill="#000" stroke="#000" stroke-width="0.24" transform="rotate(-90 112 364.5)">Relative viability</text>
<line x1="137.5" y1="345.5" x2="151.7" y2="345.5" stroke="#111" stroke-width="1.1"/>
<text x="144.6" y="346.6" font-size="5.6" text-anchor="middle" fill="#000" stroke="#000" stroke-width="0.24">****</text>
<line x1="166.8" y1="345.5" x2="181.5" y2="345.5" stroke="#111" stroke-width="1.1"/>
<text x="174.15" y="346.6" font-size="5.6" text-anchor="middle" fill="#000" stroke="#000" stroke-width="0.24">***</text>
<line x1="149.2" y1="337.5" x2="183" y2="337.5" stroke="#111" stroke-width="1.1"/>
<text x="166.1" y="338.6" font-size="5.6" text-anchor="middle" fill="#000" stroke="#000" stroke-width="0.24">****</text>
<text x="145.2" y="401.3" font-size="5.7" text-anchor="end" fill="#000" stroke="#000" stroke-width="0.24" transform="rotate(-46 145.2 401.3)">P</text>
<text x="172.7" y="401.3" font-size="5.7" text-anchor="end" fill="#000" stroke="#000" stroke-width="0.24" transform="rotate(-46 172.7 401.3)">CR</text>
<rect x="190.00" y="333.60" width="7.50" height="7.50" fill="#0a0a0a"/>
<rect x="190.00" y="343.00" width="7.50" height="7.50" fill="#f26f21"/>
<text x="198.1" y="339.5" font-size="6.35" fill="#000" stroke="#000" stroke-width="0.24">+Arginine</text>
<text x="198.1" y="348.9" font-size="6.35" fill="#000" stroke="#000" stroke-width="0.24">–Arginine</text>
<line x1="273.15" y1="364" x2="273.15" y2="361" stroke="#0a0a0a" stroke-width="0.9"/>
<line x1="271.04999999999995" y1="361" x2="275.25" y2="361" stroke="#0a0a0a" stroke-width="0.9"/>
<rect x="269.70" y="364.00" width="6.90" height="31.10" fill="#0a0a0a"/>
<line x1="283.9" y1="383.7" x2="283.9" y2="379.2" stroke="#f26f21" stroke-width="0.9"/>
<line x1="281.79999999999995" y1="379.2" x2="286.0" y2="379.2" stroke="#f26f21" stroke-width="0.9"/>
<rect x="280.00" y="383.70" width="7.80" height="11.40" fill="#f26f21"/>
<line x1="302.15" y1="364" x2="302.15" y2="356" stroke="#0a0a0a" stroke-width="0.9"/>
<line x1="300.04999999999995" y1="356" x2="304.25" y2="356" stroke="#0a0a0a" stroke-width="0.9"/>
<rect x="298.70" y="364.00" width="6.90" height="31.10" fill="#0a0a0a"/>
<line x1="313.1" y1="389.2" x2="313.1" y2="387" stroke="#f26f21" stroke-width="0.9"/>
<line x1="311.0" y1="387" x2="315.20000000000005" y2="387" stroke="#f26f21" stroke-width="0.9"/>
<rect x="309.40" y="389.20" width="7.40" height="5.90" fill="#f26f21"/>
<line x1="266" y1="331.5" x2="266" y2="395.7" stroke="#000" stroke-width="1.2"/>
<line x1="264" y1="395.09999999999997" x2="322" y2="395.09999999999997" stroke="#000" stroke-width="1.2"/>
<line x1="263.2" y1="395.09999999999997" x2="266" y2="395.09999999999997" stroke="#000" stroke-width="1.0"/>
<text x="262.8" y="397.29999999999995" font-size="6.7" text-anchor="end" fill="#000" stroke="#000" stroke-width="0.24">0.0</text>
<line x1="263.2" y1="379.325" x2="266" y2="379.325" stroke="#000" stroke-width="1.0"/>
<text x="262.8" y="381.525" font-size="6.7" text-anchor="end" fill="#000" stroke="#000" stroke-width="0.24">0.5</text>
<line x1="263.2" y1="363.54999999999995" x2="266" y2="363.54999999999995" stroke="#000" stroke-width="1.0"/>
<text x="262.8" y="365.74999999999994" font-size="6.7" text-anchor="end" fill="#000" stroke="#000" stroke-width="0.24">1.0</text>
<line x1="263.2" y1="347.775" x2="266" y2="347.775" stroke="#000" stroke-width="1.0"/>
<text x="262.8" y="349.97499999999997" font-size="6.7" text-anchor="end" fill="#000" stroke="#000" stroke-width="0.24">1.5</text>
<line x1="263.2" y1="332.0" x2="266" y2="332.0" stroke="#000" stroke-width="1.0"/>
<text x="262.8" y="334.2" font-size="6.7" text-anchor="end" fill="#000" stroke="#000" stroke-width="0.24">2.0</text>
<text x="289.1" y="328.4" font-size="6.3" text-anchor="middle" fill="#000" stroke="#000" stroke-width="0.24">H1048</text>
<text x="249.8" y="366" font-size="5.2" text-anchor="middle" fill="#000" stroke="#000" stroke-width="0.24" transform="rotate(-90 249.8 366)">Relative viability</text>
<line x1="272.8" y1="344.5" x2="287.3" y2="344.5" stroke="#111" stroke-width="1.1"/>
<text x="280.05" y="345.6" font-size="5.6" text-anchor="middle" fill="#000" stroke="#000" stroke-width="0.24">****</text>
<line x1="305.4" y1="344.5" x2="319.8" y2="344.5" stroke="#111" stroke-width="1.1"/>
<text x="312.6" y="345.6" font-size="5.6" text-anchor="middle" fill="#000" stroke="#000" stroke-width="0.24">***</text>
<line x1="287" y1="336.5" x2="322.3" y2="336.5" stroke="#111" stroke-width="1.1"/>
<text x="304.65" y="335.0" font-size="6.8" text-anchor="middle" fill="#000" stroke="#000" stroke-width="0.24">ns</text>
<text x="281.5" y="400.6" font-size="5.7" text-anchor="end" fill="#000" stroke="#000" stroke-width="0.24" transform="rotate(-46 281.5 400.6)">P</text>
<text x="310.0" y="400.6" font-size="5.7" text-anchor="end" fill="#000" stroke="#000" stroke-width="0.24" transform="rotate(-46 310.0 400.6)">ECR</text>
<line x1="368.75" y1="364" x2="368.75" y2="358.5" stroke="#0a0a0a" stroke-width="0.9"/>
<line x1="366.65" y1="358.5" x2="370.85" y2="358.5" stroke="#0a0a0a" stroke-width="0.9"/>
<rect x="365.10" y="364.00" width="7.30" height="31.40" fill="#0a0a0a"/>
<line x1="379.4" y1="386" x2="379.4" y2="384.6" stroke="#f26f21" stroke-width="0.9"/>
<line x1="377.29999999999995" y1="384.6" x2="381.5" y2="384.6" stroke="#f26f21" stroke-width="0.9"/>
<rect x="375.40" y="386.00" width="8.00" height="9.40" fill="#f26f21"/>
<line x1="398.05" y1="364" x2="398.05" y2="353" stroke="#0a0a0a" stroke-width="0.9"/>
<line x1="395.95" y1="353" x2="400.15000000000003" y2="353" stroke="#0a0a0a" stroke-width="0.9"/>
<rect x="394.30" y="364.00" width="7.50" height="31.40" fill="#0a0a0a"/>
<line x1="408.8" y1="390.8" x2="408.8" y2="390.3" stroke="#f26f21" stroke-width="0.9"/>
<line x1="406.7" y1="390.3" x2="410.90000000000003" y2="390.3" stroke="#f26f21" stroke-width="0.9"/>
<rect x="405.00" y="390.80" width="7.60" height="4.60" fill="#f26f21"/>
<line x1="361.6" y1="332.0" x2="361.6" y2="396.0" stroke="#000" stroke-width="1.2"/>
<line x1="359.6" y1="395.4" x2="417" y2="395.4" stroke="#000" stroke-width="1.2"/>
<line x1="358.8" y1="395.4" x2="361.6" y2="395.4" stroke="#000" stroke-width="1.0"/>
<text x="357.6" y="397.59999999999997" font-size="6.8" text-anchor="end" fill="#000" stroke="#000" stroke-width="0.24">0.0</text>
<line x1="358.8" y1="379.67499999999995" x2="361.6" y2="379.67499999999995" stroke="#000" stroke-width="1.0"/>
<text x="357.6" y="381.87499999999994" font-size="6.8" text-anchor="end" fill="#000" stroke="#000" stroke-width="0.24">0.5</text>
<line x1="358.8" y1="363.95" x2="361.6" y2="363.95" stroke="#000" stroke-width="1.0"/>
<text x="357.6" y="366.15" font-size="6.8" text-anchor="end" fill="#000" stroke="#000" stroke-width="0.24">1.0</text>
<line x1="358.8" y1="348.225" x2="361.6" y2="348.225" stroke="#000" stroke-width="1.0"/>
<text x="357.6" y="350.425" font-size="6.8" text-anchor="end" fill="#000" stroke="#000" stroke-width="0.24">1.5</text>
<line x1="358.8" y1="332.5" x2="361.6" y2="332.5" stroke="#000" stroke-width="1.0"/>
<text x="357.6" y="334.7" font-size="6.8" text-anchor="end" fill="#000" stroke="#000" stroke-width="0.24">2.0</text>
<text x="386.5" y="328.3" font-size="6.4" text-anchor="middle" fill="#000" stroke="#000" stroke-width="0.24">DMS53</text>
<text x="345.8" y="366" font-size="5.5" text-anchor="middle" fill="#000" stroke="#000" stroke-width="0.24" transform="rotate(-90 345.8 366)">Relative viability</text>
<line x1="367.7" y1="346.5" x2="383" y2="346.5" stroke="#111" stroke-width="1.1"/>
<text x="375.35" y="347.6" font-size="5.6" text-anchor="middle" fill="#000" stroke="#000" stroke-width="0.24">****</text>
<line x1="399" y1="346.5" x2="414.5" y2="346.5" stroke="#111" stroke-width="1.1"/>
<text x="406.75" y="347.6" font-size="5.6" text-anchor="middle" fill="#000" stroke="#000" stroke-width="0.24">***</text>
<line x1="383" y1="336.5" x2="417" y2="336.5" stroke="#111" stroke-width="1.1"/>
<text x="400.0" y="337.6" font-size="5.6" text-anchor="middle" fill="#000" stroke="#000" stroke-width="0.24">**</text>
<text x="377.7" y="400.8" font-size="5.7" text-anchor="end" fill="#000" stroke="#000" stroke-width="0.24" transform="rotate(-46 377.7 400.8)">P</text>
<text x="406.2" y="401.3" font-size="5.7" text-anchor="end" fill="#000" stroke="#000" stroke-width="0.24" transform="rotate(-46 406.2 401.3)">CR</text>
<rect x="425.50" y="333.20" width="7.50" height="7.50" fill="#0a0a0a"/>
<rect x="425.50" y="342.60" width="7.50" height="7.50" fill="#f26f21"/>
<text x="433.6" y="339.09999999999997" font-size="6.35" fill="#000" stroke="#000" stroke-width="0.24">+Glutamine</text>
<text x="433.6" y="348.49999999999994" font-size="6.35" fill="#000" stroke="#000" stroke-width="0.24">–Glutamine</text>
<line x1="39.4" y1="462.6" x2="39.4" y2="460.3" stroke="#0a0a0a" stroke-width="0.9"/>
<line x1="37.3" y1="460.3" x2="41.5" y2="460.3" stroke="#0a0a0a" stroke-width="0.9"/>
<rect x="35.80" y="462.60" width="7.20" height="31.40" fill="#0a0a0a"/>
<line x1="50.5" y1="464.3" x2="50.5" y2="462.4" stroke="#f26f21" stroke-width="0.9"/>
<line x1="48.4" y1="462.4" x2="52.6" y2="462.4" stroke="#f26f21" stroke-width="0.9"/>
<rect x="47.00" y="464.30" width="7.00" height="29.70" fill="#f26f21"/>
<line x1="68.5" y1="462.6" x2="68.5" y2="455" stroke="#0a0a0a" stroke-width="0.9"/>
<line x1="66.4" y1="455" x2="70.6" y2="455" stroke="#0a0a0a" stroke-width="0.9"/>
<rect x="65.00" y="462.60" width="7.00" height="31.40" fill="#0a0a0a"/>
<line x1="79.5" y1="477" x2="79.5" y2="473.3" stroke="#f26f21" stroke-width="0.9"/>
<line x1="77.4" y1="473.3" x2="81.6" y2="473.3" stroke="#f26f21" stroke-width="0.9"/>
<rect x="75.80" y="477.00" width="7.40" height="17.00" fill="#f26f21"/>
<line x1="32" y1="430.3" x2="32" y2="494.6" stroke="#000" stroke-width="1.2"/>
<line x1="30" y1="494" x2="85.5" y2="494" stroke="#000" stroke-width="1.2"/>
<line x1="29.2" y1="494.0" x2="32" y2="494.0" stroke="#000" stroke-width="1.0"/>
<text x="28.8" y="496.2" font-size="6.3" text-anchor="end" fill="#000" stroke="#000" stroke-width="0.24">0.0</text>
<line x1="29.2" y1="478.2" x2="32" y2="478.2" stroke="#000" stroke-width="1.0"/>
<text x="28.8" y="480.4" font-size="6.3" text-anchor="end" fill="#000" stroke="#000" stroke-width="0.24">0.5</text>
<line x1="29.2" y1="462.4" x2="32" y2="462.4" stroke="#000" stroke-width="1.0"/>
<text x="28.8" y="464.59999999999997" font-size="6.3" text-anchor="end" fill="#000" stroke="#000" stroke-width="0.24">1.0</text>
<line x1="29.2" y1="446.6" x2="32" y2="446.6" stroke="#000" stroke-width="1.0"/>
<text x="28.8" y="448.8" font-size="6.3" text-anchor="end" fill="#000" stroke="#000" stroke-width="0.24">1.5</text>
<line x1="29.2" y1="430.8" x2="32" y2="430.8" stroke="#000" stroke-width="1.0"/>
<text x="28.8" y="433.0" font-size="6.3" text-anchor="end" fill="#000" stroke="#000" stroke-width="0.24">2.0</text>
<text x="58" y="427.3" font-size="6.3" text-anchor="middle" fill="#000" stroke="#000" stroke-width="0.24">H1048</text>
<text x="15.2" y="464" font-size="5.4" text-anchor="middle" fill="#000" stroke="#000" stroke-width="0.24" transform="rotate(-90 15.2 464)">Relative viability</text>
<line x1="38.8" y1="444.5" x2="53.8" y2="444.5" stroke="#111" stroke-width="1.1"/>
<text x="46.3" y="443.0" font-size="6.8" text-anchor="middle" fill="#000" stroke="#000" stroke-width="0.24">ns</text>
<line x1="70" y1="444.5" x2="85" y2="444.5" stroke="#111" stroke-width="1.1"/>
<text x="77.5" y="445.6" font-size="5.6" text-anchor="middle" fill="#000" stroke="#000" stroke-width="0.24">**</text>
<line x1="51.3" y1="435.5" x2="85" y2="435.5" stroke="#111" stroke-width="1.1"/>
<text x="68.15" y="436.6" font-size="5.6" text-anchor="middle" fill="#000" stroke="#000" stroke-width="0.24">**</text>
<text x="47.7" y="498.8" font-size="5.7" text-anchor="end" fill="#000" stroke="#000" stroke-width="0.24" transform="rotate(-46 47.7 498.8)">P</text>
<text x="77.2" y="498.8" font-size="5.7" text-anchor="end" fill="#000" stroke="#000" stroke-width="0.24" transform="rotate(-46 77.2 498.8)">ECR</text>
<line x1="136.5" y1="463" x2="136.5" y2="457.8" stroke="#0a0a0a" stroke-width="0.9"/>
<line x1="134.4" y1="457.8" x2="138.6" y2="457.8" stroke="#0a0a0a" stroke-width="0.9"/>
<rect x="133.00" y="463.00" width="7.00" height="30.80" fill="#0a0a0a"/>
<line x1="147.25" y1="466.2" x2="147.25" y2="460" stroke="#f26f21" stroke-width="0.9"/>
<line x1="145.15" y1="460" x2="149.35" y2="460" stroke="#f26f21" stroke-width="0.9"/>
<rect x="143.70" y="466.20" width="7.10" height="27.60" fill="#f26f21"/>
<line x1="164.9" y1="463" x2="164.9" y2="452.3" stroke="#0a0a0a" stroke-width="0.9"/>
<line x1="162.8" y1="452.3" x2="167.0" y2="452.3" stroke="#0a0a0a" stroke-width="0.9"/>
<rect x="161.50" y="463.00" width="6.80" height="30.80" fill="#0a0a0a"/>
<line x1="175.85000000000002" y1="481" x2="175.85000000000002" y2="479.4" stroke="#f26f21" stroke-width="0.9"/>
<line x1="173.75000000000003" y1="479.4" x2="177.95000000000002" y2="479.4" stroke="#f26f21" stroke-width="0.9"/>
<rect x="172.30" y="481.00" width="7.10" height="12.80" fill="#f26f21"/>
<line x1="130.8" y1="431.8" x2="130.8" y2="494.40000000000003" stroke="#000" stroke-width="1.2"/>
<line x1="128.8" y1="493.8" x2="183" y2="493.8" stroke="#000" stroke-width="1.2"/>
<line x1="128.0" y1="493.8" x2="130.8" y2="493.8" stroke="#000" stroke-width="1.0"/>
<text x="127.6" y="496.0" font-size="6.8" text-anchor="end" fill="#000" stroke="#000" stroke-width="0.24">0.0</text>
<line x1="128.0" y1="478.425" x2="130.8" y2="478.425" stroke="#000" stroke-width="1.0"/>
<text x="127.6" y="480.625" font-size="6.8" text-anchor="end" fill="#000" stroke="#000" stroke-width="0.24">0.5</text>
<line x1="128.0" y1="463.05" x2="130.8" y2="463.05" stroke="#000" stroke-width="1.0"/>
<text x="127.6" y="465.25" font-size="6.8" text-anchor="end" fill="#000" stroke="#000" stroke-width="0.24">1.0</text>
<line x1="128.0" y1="447.675" x2="130.8" y2="447.675" stroke="#000" stroke-width="1.0"/>
<text x="127.6" y="449.875" font-size="6.8" text-anchor="end" fill="#000" stroke="#000" stroke-width="0.24">1.5</text>
<line x1="128.0" y1="432.3" x2="130.8" y2="432.3" stroke="#000" stroke-width="1.0"/>
<text x="127.6" y="434.5" font-size="6.8" text-anchor="end" fill="#000" stroke="#000" stroke-width="0.24">2.0</text>
<text x="155.5" y="426.4" font-size="6.4" text-anchor="middle" fill="#000" stroke="#000" stroke-width="0.24">DMS53</text>
<text x="112.2" y="465" font-size="5.4" text-anchor="middle" fill="#000" stroke="#000" stroke-width="0.24" transform="rotate(-90 112.2 465)">Relative viability</text>
<line x1="137" y1="444.5" x2="150.8" y2="444.5" stroke="#111" stroke-width="1.1"/>
<text x="143.9" y="443.3" font-size="6.8" text-anchor="middle" fill="#000" stroke="#000" stroke-width="0.24">ns</text>
<line x1="167" y1="444.5" x2="182.5" y2="444.5" stroke="#111" stroke-width="1.1"/>
<text x="174.75" y="445.6" font-size="5.6" text-anchor="middle" fill="#000" stroke="#000" stroke-width="0.24">**</text>
<line x1="149.2" y1="436.5" x2="183" y2="436.5" stroke="#111" stroke-width="1.1"/>
<text x="166.1" y="437.6" font-size="5.6" text-anchor="middle" fill="#000" stroke="#000" stroke-width="0.24">**</text>
<text x="144.7" y="498.8" font-size="5.7" text-anchor="end" fill="#000" stroke="#000" stroke-width="0.24" transform="rotate(-46 144.7 498.8)">P</text>
<text x="173.2" y="499.3" font-size="5.7" text-anchor="end" fill="#000" stroke="#000" stroke-width="0.24" transform="rotate(-46 173.2 499.3)">CR</text>
<rect x="190.00" y="429.80" width="7.50" height="7.50" fill="#0a0a0a"/>
<rect x="190.00" y="439.00" width="7.50" height="7.50" fill="#f26f21"/>
<text x="198.1" y="435.7" font-size="6.35" fill="#000" stroke="#000" stroke-width="0.24">+Leucine</text>
<text x="198.1" y="444.9" font-size="6.35" fill="#000" stroke="#000" stroke-width="0.24">–Leucine</text>
<line x1="276.2" y1="449.8" x2="276.2" y2="445.4" stroke="#0a0a0a" stroke-width="0.9"/>
<line x1="274.09999999999997" y1="445.4" x2="278.3" y2="445.4" stroke="#0a0a0a" stroke-width="0.9"/>
<rect x="271.40" y="449.80" width="9.60" height="43.90" fill="#0a0a0a"/>
<line x1="290.1" y1="483.6" x2="290.1" y2="482.6" stroke="#f26f21" stroke-width="0.9"/>
<line x1="288.0" y1="482.6" x2="292.20000000000005" y2="482.6" stroke="#f26f21" stroke-width="0.9"/>
<rect x="285.40" y="483.60" width="9.40" height="10.10" fill="#f26f21"/>
<line x1="269.4" y1="431.2" x2="269.4" y2="494.3" stroke="#000" stroke-width="1.2"/>
<line x1="267.4" y1="493.7" x2="297" y2="493.7" stroke="#000" stroke-width="1.2"/>
<line x1="266.59999999999997" y1="493.7" x2="269.4" y2="493.7" stroke="#000" stroke-width="1.0"/>
<text x="266.5" y="495.9" font-size="5.9" text-anchor="end" fill="#000" stroke="#000" stroke-width="0.24">0</text>
<line x1="266.59999999999997" y1="478.2" x2="269.4" y2="478.2" stroke="#000" stroke-width="1.0"/>
<text x="266.5" y="480.4" font-size="5.9" text-anchor="end" fill="#000" stroke="#000" stroke-width="0.24">300</text>
<line x1="266.59999999999997" y1="462.7" x2="269.4" y2="462.7" stroke="#000" stroke-width="1.0"/>
<text x="266.5" y="464.9" font-size="5.9" text-anchor="end" fill="#000" stroke="#000" stroke-width="0.24">600</text>
<line x1="266.59999999999997" y1="447.2" x2="269.4" y2="447.2" stroke="#000" stroke-width="1.0"/>
<text x="266.5" y="449.4" font-size="5.9" text-anchor="end" fill="#000" stroke="#000" stroke-width="0.24">900</text>
<line x1="266.59999999999997" y1="431.7" x2="269.4" y2="431.7" stroke="#000" stroke-width="1.0"/>
<text x="266.5" y="433.9" font-size="5.9" text-anchor="end" fill="#000" stroke="#000" stroke-width="0.24">1,200</text>
<text x="282.3" y="426.6" font-size="6.0" text-anchor="middle" fill="#000" stroke="#000" stroke-width="0.24">H1048</text>
<text x="250.8" y="459.5" font-size="5.5" text-anchor="middle" fill="#000" stroke="#000" stroke-width="0.24" transform="rotate(-90 250.8 459.5)">DFMO EC50 (μmol/L)</text>
<line x1="277.7" y1="441.5" x2="294.6" y2="441.5" stroke="#111" stroke-width="1.1"/>
<text x="286.15" y="442.6" font-size="5.6" text-anchor="middle" fill="#000" stroke="#000" stroke-width="0.24">****</text>
<text x="279.7" y="497.8" font-size="5.7" text-anchor="end" fill="#000" stroke="#000" stroke-width="0.24" transform="rotate(-46 279.7 497.8)">P</text>
<text x="292.7" y="497.8" font-size="5.7" text-anchor="end" fill="#000" stroke="#000" stroke-width="0.24" transform="rotate(-46 292.7 497.8)">ECR</text>
<line x1="335.0" y1="453" x2="335.0" y2="442.8" stroke="#0a0a0a" stroke-width="0.9"/>
<line x1="332.9" y1="442.8" x2="337.1" y2="442.8" stroke="#0a0a0a" stroke-width="0.9"/>
<rect x="330.00" y="453.00" width="10.00" height="40.70" fill="#0a0a0a"/>
<line x1="348.4" y1="488.8" x2="348.4" y2="487" stroke="#f26f21" stroke-width="0.9"/>
<line x1="346.29999999999995" y1="487" x2="350.5" y2="487" stroke="#f26f21" stroke-width="0.9"/>
<rect x="343.20" y="488.80" width="10.40" height="4.90" fill="#f26f21"/>
<line x1="326" y1="431.2" x2="326" y2="494.3" stroke="#000" stroke-width="1.2"/>
<line x1="324" y1="493.7" x2="355.5" y2="493.7" stroke="#000" stroke-width="1.2"/>
<line x1="323.2" y1="493.7" x2="326" y2="493.7" stroke="#000" stroke-width="1.0"/>
<text x="323.6" y="495.9" font-size="5.4" text-anchor="end" fill="#000" stroke="#000" stroke-width="0.24">0</text>
<line x1="323.2" y1="478.2" x2="326" y2="478.2" stroke="#000" stroke-width="1.0"/>
<text x="323.6" y="480.4" font-size="5.4" text-anchor="end" fill="#000" stroke="#000" stroke-width="0.24">1,000</text>
<line x1="323.2" y1="462.7" x2="326" y2="462.7" stroke="#000" stroke-width="1.0"/>
<text x="323.6" y="464.9" font-size="5.4" text-anchor="end" fill="#000" stroke="#000" stroke-width="0.24">2,000</text>
<line x1="323.2" y1="447.2" x2="326" y2="447.2" stroke="#000" stroke-width="1.0"/>
<text x="323.6" y="449.4" font-size="5.4" text-anchor="end" fill="#000" stroke="#000" stroke-width="0.24">3,000</text>
<line x1="323.2" y1="431.7" x2="326" y2="431.7" stroke="#000" stroke-width="1.0"/>
<text x="323.6" y="433.9" font-size="5.4" text-anchor="end" fill="#000" stroke="#000" stroke-width="0.24">4,000</text>
<text x="339.8" y="426.6" font-size="6.3" text-anchor="middle" fill="#000" stroke="#000" stroke-width="0.24">DMS53</text>
<text x="306" y="459.5" font-size="5.5" text-anchor="middle" fill="#000" stroke="#000" stroke-width="0.24" transform="rotate(-90 306 459.5)">DFMO EC50 (μmol/L)</text>
<line x1="336.3" y1="436.5" x2="353.6" y2="436.5" stroke="#111" stroke-width="1.1"/>
<text x="344.95000000000005" y="437.6" font-size="5.6" text-anchor="middle" fill="#000" stroke="#000" stroke-width="0.24">**</text>
<text x="338.0" y="497.8" font-size="5.7" text-anchor="end" fill="#000" stroke="#000" stroke-width="0.24" transform="rotate(-46 338.0 497.8)">P</text>
<text x="352.5" y="497.8" font-size="5.7" text-anchor="end" fill="#000" stroke="#000" stroke-width="0.24" transform="rotate(-46 352.5 497.8)">CR</text>
<line x1="35.0" y1="572" x2="35.0" y2="571.5" stroke="#0a0a0a" stroke-width="0.9"/>
<line x1="32.9" y1="571.5" x2="37.1" y2="571.5" stroke="#0a0a0a" stroke-width="0.9"/>
<rect x="31.00" y="572.00" width="8.00" height="12.80" fill="#0a0a0a"/>
<rect x="43.00" y="581.50" width="8.20" height="3.30" fill="#0a0a0a"/>
<line x1="59.85" y1="547.3" x2="59.85" y2="546.8" stroke="#f26f21" stroke-width="0.9"/>
<line x1="57.75" y1="546.8" x2="61.95" y2="546.8" stroke="#f26f21" stroke-width="0.9"/>
<rect x="55.70" y="547.30" width="8.30" height="37.50" fill="#f26f21"/>
<line x1="72.25" y1="579.7" x2="72.25" y2="579.4" stroke="#f26f21" stroke-width="0.9"/>
<line x1="70.15" y1="579.4" x2="74.35" y2="579.4" stroke="#f26f21" stroke-width="0.9"/>
<rect x="68.00" y="579.70" width="8.50" height="5.10" fill="#f26f21"/>
<line x1="28.8" y1="524.5" x2="28.8" y2="585.4" stroke="#000" stroke-width="1.2"/>
<line x1="26.8" y1="584.8" x2="78" y2="584.8" stroke="#000" stroke-width="1.2"/>
<line x1="26.0" y1="584.8" x2="28.8" y2="584.8" stroke="#000" stroke-width="1.0"/>
<text x="26" y="587.0" font-size="6.0" text-anchor="end" fill="#000" stroke="#000" stroke-width="0.24">0</text>
<line x1="26.0" y1="569.8499999999999" x2="28.8" y2="569.8499999999999" stroke="#000" stroke-width="1.0"/>
<text x="26" y="572.05" font-size="6.0" text-anchor="end" fill="#000" stroke="#000" stroke-width="0.24">10</text>
<line x1="26.0" y1="554.9" x2="28.8" y2="554.9" stroke="#000" stroke-width="1.0"/>
<text x="26" y="557.1" font-size="6.0" text-anchor="end" fill="#000" stroke="#000" stroke-width="0.24">20</text>
<line x1="26.0" y1="539.95" x2="28.8" y2="539.95" stroke="#000" stroke-width="1.0"/>
<text x="26" y="542.1500000000001" font-size="6.0" text-anchor="end" fill="#000" stroke="#000" stroke-width="0.24">30</text>
<line x1="26.0" y1="525.0" x2="28.8" y2="525.0" stroke="#000" stroke-width="1.0"/>
<text x="26" y="527.2" font-size="6.0" text-anchor="end" fill="#000" stroke="#000" stroke-width="0.24">40</text>
<text x="15.8" y="553" font-size="5.7" text-anchor="middle" fill="#000" stroke="#000" stroke-width="0.24" transform="rotate(-90 15.8 553)">Cisplatin EC50 (μmol/L)</text>
<line x1="33.7" y1="531.5" x2="70" y2="531.5" stroke="#111" stroke-width="1.2"/>
<text x="51.85" y="531.8000000000001" font-size="5.6" text-anchor="middle" fill="#000" stroke="#000" stroke-width="0.24">****</text>
<line x1="57.9" y1="538.5" x2="72.2" y2="538.5" stroke="#111" stroke-width="1.2"/>
<text x="65.05" y="538.6" font-size="5.6" text-anchor="middle" fill="#000" stroke="#000" stroke-width="0.24">****</text>
<line x1="33.7" y1="542.5" x2="57.9" y2="542.5" stroke="#111" stroke-width="1.2"/>
<text x="45.8" y="543.1" font-size="5.6" text-anchor="middle" fill="#000" stroke="#000" stroke-width="0.24">****</text>
<text x="35" y="592.2" font-size="7.2" text-anchor="middle" fill="#000" stroke="#000" stroke-width="0.24">-</text>
<text x="47" y="592" font-size="6" text-anchor="middle" fill="#000" stroke="#000" stroke-width="0.24">+</text>
<text x="59.8" y="592.2" font-size="7.2" text-anchor="middle" fill="#000" stroke="#000" stroke-width="0.24">-</text>
<text x="72.2" y="592" font-size="6" text-anchor="middle" fill="#000" stroke="#000" stroke-width="0.24">+</text>
<line x1="100.1" y1="578" x2="100.1" y2="577.4" stroke="#0a0a0a" stroke-width="0.9"/>
<line x1="98.0" y1="577.4" x2="102.19999999999999" y2="577.4" stroke="#0a0a0a" stroke-width="0.9"/>
<rect x="96.40" y="578.00" width="7.40" height="6.80" fill="#0a0a0a"/>
<line x1="111.75" y1="581.5" x2="111.75" y2="581" stroke="#0a0a0a" stroke-width="0.9"/>
<line x1="109.65" y1="581" x2="113.85" y2="581" stroke="#0a0a0a" stroke-width="0.9"/>
<rect x="107.70" y="581.50" width="8.10" height="3.30" fill="#0a0a0a"/>
<line x1="124.35" y1="549.2" x2="124.35" y2="548" stroke="#f26f21" stroke-width="0.9"/>
<line x1="122.25" y1="548" x2="126.44999999999999" y2="548" stroke="#f26f21" stroke-width="0.9"/>
<rect x="120.30" y="549.20" width="8.10" height="35.60" fill="#f26f21"/>
<line x1="136.3" y1="574" x2="136.3" y2="573.4" stroke="#f26f21" stroke-width="0.9"/>
<line x1="134.20000000000002" y1="573.4" x2="138.4" y2="573.4" stroke="#f26f21" stroke-width="0.9"/>
<rect x="132.20" y="574.00" width="8.20" height="10.80" fill="#f26f21"/>
<line x1="94.8" y1="524.5" x2="94.8" y2="585.4" stroke="#000" stroke-width="1.2"/>
<line x1="92.8" y1="584.8" x2="141.5" y2="584.8" stroke="#000" stroke-width="1.2"/>
<line x1="92.0" y1="584.8" x2="94.8" y2="584.8" stroke="#000" stroke-width="1.0"/>
<text x="92.2" y="587.0" font-size="6.0" text-anchor="end" fill="#000" stroke="#000" stroke-width="0.24">0</text>
<line x1="92.0" y1="569.8499999999999" x2="94.8" y2="569.8499999999999" stroke="#000" stroke-width="1.0"/>
<text x="92.2" y="572.05" font-size="6.0" text-anchor="end" fill="#000" stroke="#000" stroke-width="0.24">2</text>
<line x1="92.0" y1="554.9" x2="94.8" y2="554.9" stroke="#000" stroke-width="1.0"/>
<text x="92.2" y="557.1" font-size="6.0" text-anchor="end" fill="#000" stroke="#000" stroke-width="0.24">4</text>
<line x1="92.0" y1="539.95" x2="94.8" y2="539.95" stroke="#000" stroke-width="1.0"/>
<text x="92.2" y="542.1500000000001" font-size="6.0" text-anchor="end" fill="#000" stroke="#000" stroke-width="0.24">6</text>
<line x1="92.0" y1="525.0" x2="94.8" y2="525.0" stroke="#000" stroke-width="1.0"/>
<text x="92.2" y="527.2" font-size="6.0" text-anchor="end" fill="#000" stroke="#000" stroke-width="0.24">8</text>
<text x="85" y="554" font-size="5.7" text-anchor="middle" fill="#000" stroke="#000" stroke-width="0.24" transform="rotate(-90 85 554)">Etoposide EC50 (μmol/L)</text>
<line x1="98.3" y1="532.5" x2="135.4" y2="532.5" stroke="#111" stroke-width="1.2"/>
<text x="116.85" y="532.6" font-size="5.6" text-anchor="middle" fill="#000" stroke="#000" stroke-width="0.24">***</text>
<line x1="123.9" y1="539.5" x2="140" y2="539.5" stroke="#111" stroke-width="1.2"/>
<text x="131.95" y="539.4" font-size="5.6" text-anchor="middle" fill="#000" stroke="#000" stroke-width="0.24">****</text>
<line x1="98.3" y1="542.5" x2="122.5" y2="542.5" stroke="#111" stroke-width="1.2"/>
<text x="110.4" y="543.1" font-size="5.6" text-anchor="middle" fill="#000" stroke="#000" stroke-width="0.24">****</text>
<text x="100" y="592.2" font-size="7.2" text-anchor="middle" fill="#000" stroke="#000" stroke-width="0.24">-</text>
<text x="111.7" y="592" font-size="6" text-anchor="middle" fill="#000" stroke="#000" stroke-width="0.24">+</text>
<text x="124.3" y="592.2" font-size="7.2" text-anchor="middle" fill="#000" stroke="#000" stroke-width="0.24">-</text>
<text x="136.2" y="592" font-size="6" text-anchor="middle" fill="#000" stroke="#000" stroke-width="0.24">+</text>
<rect x="143.80" y="531.20" width="5.00" height="4.20" fill="#0a0a0a"/>
<rect x="143.80" y="538.00" width="5.00" height="4.20" fill="#f26f21"/>
<text x="150.4" y="535.5" font-size="6.3" fill="#000" stroke="#000" stroke-width="0.24">P</text>
<text x="150.4" y="542.3" font-size="6.3" fill="#000" stroke="#000" stroke-width="0.24">ECR</text>
<line x1="193.5" y1="581.4" x2="193.5" y2="581" stroke="#0a0a0a" stroke-width="0.9"/>
<line x1="191.4" y1="581" x2="195.6" y2="581" stroke="#0a0a0a" stroke-width="0.9"/>
<rect x="189.50" y="581.40" width="8.00" height="3.20" fill="#0a0a0a"/>
<rect x="201.50" y="583.90" width="7.70" height="0.70" fill="#0a0a0a"/>
<line x1="217.65" y1="551" x2="217.65" y2="550.6" stroke="#f26f21" stroke-width="0.9"/>
<line x1="215.55" y1="550.6" x2="219.75" y2="550.6" stroke="#f26f21" stroke-width="0.9"/>
<rect x="213.80" y="551.00" width="7.70" height="33.60" fill="#f26f21"/>
<line x1="230.0" y1="580.2" x2="230.0" y2="579.8" stroke="#f26f21" stroke-width="0.9"/>
<line x1="227.9" y1="579.8" x2="232.1" y2="579.8" stroke="#f26f21" stroke-width="0.9"/>
<rect x="226.20" y="580.20" width="7.60" height="4.40" fill="#f26f21"/>
<line x1="187" y1="525.5" x2="187" y2="585.2" stroke="#000" stroke-width="1.2"/>
<line x1="185" y1="584.6" x2="235" y2="584.6" stroke="#000" stroke-width="1.2"/>
<line x1="184.2" y1="584.6" x2="187" y2="584.6" stroke="#000" stroke-width="1.0"/>
<text x="184.6" y="586.8000000000001" font-size="6.0" text-anchor="end" fill="#000" stroke="#000" stroke-width="0.24">0</text>
<line x1="184.2" y1="569.95" x2="187" y2="569.95" stroke="#000" stroke-width="1.0"/>
<text x="184.6" y="572.1500000000001" font-size="6.0" text-anchor="end" fill="#000" stroke="#000" stroke-width="0.24">10</text>
<line x1="184.2" y1="555.3" x2="187" y2="555.3" stroke="#000" stroke-width="1.0"/>
<text x="184.6" y="557.5" font-size="6.0" text-anchor="end" fill="#000" stroke="#000" stroke-width="0.24">20</text>
<line x1="184.2" y1="540.65" x2="187" y2="540.65" stroke="#000" stroke-width="1.0"/>
<text x="184.6" y="542.85" font-size="6.0" text-anchor="end" fill="#000" stroke="#000" stroke-width="0.24">30</text>
<line x1="184.2" y1="526.0" x2="187" y2="526.0" stroke="#000" stroke-width="1.0"/>
<text x="184.6" y="528.2" font-size="6.0" text-anchor="end" fill="#000" stroke="#000" stroke-width="0.24">40</text>
<text x="176.2" y="554.5" font-size="5.7" text-anchor="middle" fill="#000" stroke="#000" stroke-width="0.24" transform="rotate(-90 176.2 554.5)">Cisplatin EC50 (μmol/L)</text>
<line x1="192.3" y1="531.5" x2="229.2" y2="531.5" stroke="#111" stroke-width="1.2"/>
<text x="210.75" y="531.6" font-size="5.6" text-anchor="middle" fill="#000" stroke="#000" stroke-width="0.24">****</text>
<line x1="217.8" y1="538.5" x2="229.2" y2="538.5" stroke="#111" stroke-width="1.2"/>
<text x="223.5" y="538.4" font-size="5.6" text-anchor="middle" fill="#000" stroke="#000" stroke-width="0.24">****</text>
<line x1="192.3" y1="541.5" x2="216" y2="541.5" stroke="#111" stroke-width="1.2"/>
<text x="204.15" y="541.7" font-size="5.6" text-anchor="middle" fill="#000" stroke="#000" stroke-width="0.24">****</text>
<text x="193.5" y="592.2" font-size="7.2" text-anchor="middle" fill="#000" stroke="#000" stroke-width="0.24">-</text>
<text x="205.5" y="592" font-size="6" text-anchor="middle" fill="#000" stroke="#000" stroke-width="0.24">+</text>
<text x="217.8" y="592.2" font-size="7.2" text-anchor="middle" fill="#000" stroke="#000" stroke-width="0.24">-</text>
<text x="229.5" y="592" font-size="6" text-anchor="middle" fill="#000" stroke="#000" stroke-width="0.24">+</text>
<text x="233.8" y="592.2" font-size="6.1" fill="#000" stroke="#000" stroke-width="0.24">AZD8055</text>
<rect x="236.20" y="531.20" width="5.00" height="4.20" fill="#0a0a0a"/>
<rect x="236.20" y="538.00" width="5.00" height="4.20" fill="#f26f21"/>
<text x="242.79999999999998" y="535.5" font-size="6.3" fill="#000" stroke="#000" stroke-width="0.24">P</text>
<text x="242.79999999999998" y="542.3" font-size="6.3" fill="#000" stroke="#000" stroke-width="0.24">CR</text>
<line x1="292.15" y1="577.6" x2="292.15" y2="576.8" stroke="#0a0a0a" stroke-width="0.9"/>
<line x1="290.04999999999995" y1="576.8" x2="294.25" y2="576.8" stroke="#0a0a0a" stroke-width="0.9"/>
<rect x="288.30" y="577.60" width="7.70" height="8.60" fill="#0a0a0a"/>
<line x1="303.85" y1="583.8" x2="303.85" y2="583.4" stroke="#0a0a0a" stroke-width="0.9"/>
<line x1="301.75" y1="583.4" x2="305.95000000000005" y2="583.4" stroke="#0a0a0a" stroke-width="0.9"/>
<rect x="300.00" y="583.80" width="7.70" height="2.40" fill="#0a0a0a"/>
<line x1="316.45000000000005" y1="551" x2="316.45000000000005" y2="547.8" stroke="#f26f21" stroke-width="0.9"/>
<line x1="314.35" y1="547.8" x2="318.55000000000007" y2="547.8" stroke="#f26f21" stroke-width="0.9"/>
<rect x="312.30" y="551.00" width="8.30" height="35.20" fill="#f26f21"/>
<line x1="328.45000000000005" y1="583.2" x2="328.45000000000005" y2="582.8" stroke="#f26f21" stroke-width="0.9"/>
<line x1="326.35" y1="582.8" x2="330.55000000000007" y2="582.8" stroke="#f26f21" stroke-width="0.9"/>
<rect x="324.60" y="583.20" width="7.70" height="3.00" fill="#f26f21"/>
<line x1="287" y1="526.5" x2="287" y2="586.8000000000001" stroke="#000" stroke-width="1.2"/>
<line x1="285" y1="586.2" x2="334" y2="586.2" stroke="#000" stroke-width="1.2"/>
<line x1="284.2" y1="586.2" x2="287" y2="586.2" stroke="#000" stroke-width="1.0"/>
<text x="284.4" y="588.4000000000001" font-size="6.0" text-anchor="end" fill="#000" stroke="#000" stroke-width="0.24">0</text>
<line x1="284.2" y1="571.4000000000001" x2="287" y2="571.4000000000001" stroke="#000" stroke-width="1.0"/>
<text x="284.4" y="573.6000000000001" font-size="6.0" text-anchor="end" fill="#000" stroke="#000" stroke-width="0.24">10</text>
<line x1="284.2" y1="556.6" x2="287" y2="556.6" stroke="#000" stroke-width="1.0"/>
<text x="284.4" y="558.8000000000001" font-size="6.0" text-anchor="end" fill="#000" stroke="#000" stroke-width="0.24">20</text>
<line x1="284.2" y1="541.8" x2="287" y2="541.8" stroke="#000" stroke-width="1.0"/>
<text x="284.4" y="544.0" font-size="6.0" text-anchor="end" fill="#000" stroke="#000" stroke-width="0.24">30</text>
<line x1="284.2" y1="527.0" x2="287" y2="527.0" stroke="#000" stroke-width="1.0"/>
<text x="284.4" y="529.2" font-size="6.0" text-anchor="end" fill="#000" stroke="#000" stroke-width="0.24">40</text>
<text x="274.3" y="556" font-size="5.7" text-anchor="middle" fill="#000" stroke="#000" stroke-width="0.24" transform="rotate(-90 274.3 556)">Cisplatin EC50 (μmol/L)</text>
<line x1="290.8" y1="532.5" x2="326.2" y2="532.5" stroke="#111" stroke-width="1.2"/>
<text x="308.5" y="533.1" font-size="5.6" text-anchor="middle" fill="#000" stroke="#000" stroke-width="0.24">***</text>
<line x1="315.4" y1="539.5" x2="329.2" y2="539.5" stroke="#111" stroke-width="1.2"/>
<text x="322.29999999999995" y="539.3000000000001" font-size="5.6" text-anchor="middle" fill="#000" stroke="#000" stroke-width="0.24">****</text>
<line x1="290.8" y1="545.5" x2="315.4" y2="545.5" stroke="#111" stroke-width="1.2"/>
<text x="303.1" y="545.5" font-size="5.6" text-anchor="middle" fill="#000" stroke="#000" stroke-width="0.24">***</text>
<text x="291.7" y="593.4000000000001" font-size="7.2" text-anchor="middle" fill="#000" stroke="#000" stroke-width="0.24">-</text>
<text x="304" y="593.2" font-size="6" text-anchor="middle" fill="#000" stroke="#000" stroke-width="0.24">+</text>
<text x="316.3" y="593.4000000000001" font-size="7.2" text-anchor="middle" fill="#000" stroke="#000" stroke-width="0.24">-</text>
<text x="328.3" y="593.2" font-size="6" text-anchor="middle" fill="#000" stroke="#000" stroke-width="0.24">+</text>
<line x1="359.5" y1="584.8" x2="359.5" y2="583.3" stroke="#0a0a0a" stroke-width="0.9"/>
<line x1="357.4" y1="583.3" x2="361.6" y2="583.3" stroke="#0a0a0a" stroke-width="0.9"/>
<rect x="356.00" y="584.80" width="7.00" height="1.40" fill="#0a0a0a"/>
<line x1="371.54999999999995" y1="585.4" x2="371.54999999999995" y2="585" stroke="#0a0a0a" stroke-width="0.9"/>
<line x1="369.44999999999993" y1="585" x2="373.65" y2="585" stroke="#0a0a0a" stroke-width="0.9"/>
<rect x="367.70" y="585.40" width="7.70" height="0.80" fill="#0a0a0a"/>
<line x1="383.85" y1="558.3" x2="383.85" y2="546.3" stroke="#f26f21" stroke-width="0.9"/>
<line x1="381.75" y1="546.3" x2="385.95000000000005" y2="546.3" stroke="#f26f21" stroke-width="0.9"/>
<rect x="380.00" y="558.30" width="7.70" height="27.90" fill="#f26f21"/>
<line x1="396.15" y1="584.4" x2="396.15" y2="583" stroke="#f26f21" stroke-width="0.9"/>
<line x1="394.04999999999995" y1="583" x2="398.25" y2="583" stroke="#f26f21" stroke-width="0.9"/>
<rect x="392.30" y="584.40" width="7.70" height="1.80" fill="#f26f21"/>
<line x1="354.8" y1="526.5" x2="354.8" y2="586.8000000000001" stroke="#000" stroke-width="1.2"/>
<line x1="352.8" y1="586.2" x2="401.5" y2="586.2" stroke="#000" stroke-width="1.2"/>
<line x1="352.0" y1="586.2" x2="354.8" y2="586.2" stroke="#000" stroke-width="1.0"/>
<text x="352.2" y="588.4000000000001" font-size="6.0" text-anchor="end" fill="#000" stroke="#000" stroke-width="0.24">0</text>
<line x1="352.0" y1="574.36" x2="354.8" y2="574.36" stroke="#000" stroke-width="1.0"/>
<text x="352.2" y="576.5600000000001" font-size="6.0" text-anchor="end" fill="#000" stroke="#000" stroke-width="0.24">7</text>
<line x1="352.0" y1="562.52" x2="354.8" y2="562.52" stroke="#000" stroke-width="1.0"/>
<text x="352.2" y="564.72" font-size="6.0" text-anchor="end" fill="#000" stroke="#000" stroke-width="0.24">14</text>
<line x1="352.0" y1="550.6800000000001" x2="354.8" y2="550.6800000000001" stroke="#000" stroke-width="1.0"/>
<text x="352.2" y="552.8800000000001" font-size="6.0" text-anchor="end" fill="#000" stroke="#000" stroke-width="0.24">21</text>
<line x1="352.0" y1="538.84" x2="354.8" y2="538.84" stroke="#000" stroke-width="1.0"/>
<text x="352.2" y="541.0400000000001" font-size="6.0" text-anchor="end" fill="#000" stroke="#000" stroke-width="0.24">28</text>
<line x1="352.0" y1="527.0" x2="354.8" y2="527.0" stroke="#000" stroke-width="1.0"/>
<text x="352.2" y="529.2" font-size="6.0" text-anchor="end" fill="#000" stroke="#000" stroke-width="0.24">35</text>
<text x="342.6" y="556" font-size="5.7" text-anchor="middle" fill="#000" stroke="#000" stroke-width="0.24" transform="rotate(-90 342.6 556)">Etoposide EC50 (μmol/L)</text>
<line x1="357.8" y1="531.5" x2="395.4" y2="531.5" stroke="#111" stroke-width="1.2"/>
<text x="376.6" y="530.2" font-size="6.8" text-anchor="middle" fill="#000" stroke="#000" stroke-width="0.24">ns</text>
<line x1="383" y1="537.5" x2="395.4" y2="537.5" stroke="#111" stroke-width="1.2"/>
<text x="389.2" y="537.8000000000001" font-size="5.6" text-anchor="middle" fill="#000" stroke="#000" stroke-width="0.24">*</text>
<line x1="357.8" y1="542.5" x2="381.5" y2="542.5" stroke="#111" stroke-width="1.2"/>
<text x="369.65" y="543.1" font-size="5.6" text-anchor="middle" fill="#000" stroke="#000" stroke-width="0.24">*</text>
<text x="359.5" y="593.4000000000001" font-size="7.2" text-anchor="middle" fill="#000" stroke="#000" stroke-width="0.24">-</text>
<text x="371.5" y="593.2" font-size="6" text-anchor="middle" fill="#000" stroke="#000" stroke-width="0.24">+</text>
<text x="383.8" y="593.4000000000001" font-size="7.2" text-anchor="middle" fill="#000" stroke="#000" stroke-width="0.24">-</text>
<text x="396" y="593.2" font-size="6" text-anchor="middle" fill="#000" stroke="#000" stroke-width="0.24">+</text>
<rect x="401.40" y="532.50" width="5.00" height="4.20" fill="#0a0a0a"/>
<rect x="401.40" y="539.30" width="5.00" height="4.20" fill="#f26f21"/>
<text x="408.0" y="536.8" font-size="6.3" fill="#000" stroke="#000" stroke-width="0.24">P</text>
<text x="408.0" y="543.5999999999999" font-size="6.3" fill="#000" stroke="#000" stroke-width="0.24">ECR</text>
<line x1="452.2" y1="581" x2="452.2" y2="580.4" stroke="#0a0a0a" stroke-width="0.9"/>
<line x1="450.09999999999997" y1="580.4" x2="454.3" y2="580.4" stroke="#0a0a0a" stroke-width="0.9"/>
<rect x="448.00" y="581.00" width="8.40" height="5.50" fill="#0a0a0a"/>
<line x1="464.2" y1="585" x2="464.2" y2="584.6" stroke="#0a0a0a" stroke-width="0.9"/>
<line x1="462.09999999999997" y1="584.6" x2="466.3" y2="584.6" stroke="#0a0a0a" stroke-width="0.9"/>
<rect x="460.00" y="585.00" width="8.40" height="1.50" fill="#0a0a0a"/>
<line x1="476.4" y1="554.2" x2="476.4" y2="553.8" stroke="#f26f21" stroke-width="0.9"/>
<line x1="474.29999999999995" y1="553.8" x2="478.5" y2="553.8" stroke="#f26f21" stroke-width="0.9"/>
<rect x="472.20" y="554.20" width="8.40" height="32.30" fill="#f26f21"/>
<line x1="488.8" y1="582.8" x2="488.8" y2="582.4" stroke="#f26f21" stroke-width="0.9"/>
<line x1="486.7" y1="582.4" x2="490.90000000000003" y2="582.4" stroke="#f26f21" stroke-width="0.9"/>
<rect x="484.60" y="582.80" width="8.40" height="3.70" fill="#f26f21"/>
<line x1="445.4" y1="527.6" x2="445.4" y2="587.1" stroke="#000" stroke-width="1.2"/>
<line x1="443.4" y1="586.5" x2="494" y2="586.5" stroke="#000" stroke-width="1.2"/>
<line x1="442.59999999999997" y1="586.5" x2="445.4" y2="586.5" stroke="#000" stroke-width="1.0"/>
<text x="442" y="588.7" font-size="6.0" text-anchor="end" fill="#000" stroke="#000" stroke-width="0.24">0</text>
<line x1="442.59999999999997" y1="571.9" x2="445.4" y2="571.9" stroke="#000" stroke-width="1.0"/>
<text x="442" y="574.1" font-size="6.0" text-anchor="end" fill="#000" stroke="#000" stroke-width="0.24">10</text>
<line x1="442.59999999999997" y1="557.3" x2="445.4" y2="557.3" stroke="#000" stroke-width="1.0"/>
<text x="442" y="559.5" font-size="6.0" text-anchor="end" fill="#000" stroke="#000" stroke-width="0.24">20</text>
<line x1="442.59999999999997" y1="542.7" x2="445.4" y2="542.7" stroke="#000" stroke-width="1.0"/>
<text x="442" y="544.9000000000001" font-size="6.0" text-anchor="end" fill="#000" stroke="#000" stroke-width="0.24">30</text>
<line x1="442.59999999999997" y1="528.1" x2="445.4" y2="528.1" stroke="#000" stroke-width="1.0"/>
<text x="442" y="530.3000000000001" font-size="6.0" text-anchor="end" fill="#000" stroke="#000" stroke-width="0.24">40</text>
<text x="434.2" y="557" font-size="5.7" text-anchor="middle" fill="#000" stroke="#000" stroke-width="0.24" transform="rotate(-90 434.2 557)">Cisplatin EC50 (μmol/L)</text>
<line x1="450" y1="534.5" x2="487.7" y2="534.5" stroke="#111" stroke-width="1.2"/>
<text x="468.85" y="534.5" font-size="5.6" text-anchor="middle" fill="#000" stroke="#000" stroke-width="0.24">****</text>
<line x1="476.4" y1="540.5" x2="487.7" y2="540.5" stroke="#111" stroke-width="1.2"/>
<text x="482.04999999999995" y="540.7" font-size="5.6" text-anchor="middle" fill="#000" stroke="#000" stroke-width="0.24">****</text>
<line x1="450" y1="545.5" x2="475.6" y2="545.5" stroke="#111" stroke-width="1.2"/>
<text x="462.8" y="545.8000000000001" font-size="5.6" text-anchor="middle" fill="#000" stroke="#000" stroke-width="0.24">****</text>
<text x="452.2" y="593.6" font-size="7.2" text-anchor="middle" fill="#000" stroke="#000" stroke-width="0.24">-</text>
<text x="464.3" y="593.4" font-size="6" text-anchor="middle" fill="#000" stroke="#000" stroke-width="0.24">+</text>
<text x="476.4" y="593.6" font-size="7.2" text-anchor="middle" fill="#000" stroke="#000" stroke-width="0.24">-</text>
<text x="487.7" y="593.4" font-size="6" text-anchor="middle" fill="#000" stroke="#000" stroke-width="0.24">+</text>
<text x="494.4" y="593" font-size="6.1" fill="#000" stroke="#000" stroke-width="0.24">AZD2014</text>
<rect x="497.00" y="532.50" width="5.00" height="4.20" fill="#0a0a0a"/>
<rect x="497.00" y="539.30" width="5.00" height="4.20" fill="#f26f21"/>
<text x="503.6" y="536.8" font-size="6.3" fill="#000" stroke="#000" stroke-width="0.24">P</text>
<text x="503.6" y="543.5999999999999" font-size="6.3" fill="#000" stroke="#000" stroke-width="0.24">CR</text>
</svg>
</body></html>
